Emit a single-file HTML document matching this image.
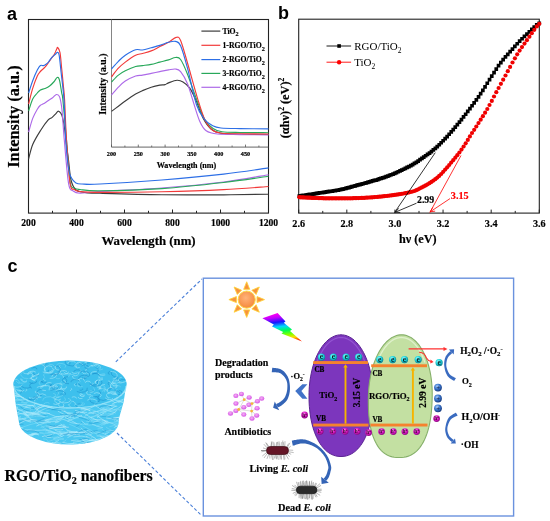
<!DOCTYPE html><html><head><meta charset="utf-8"><title>Figure</title><style>html,body{margin:0;padding:0;background:#fff;}svg{display:block;}.s{font-family:"Liberation Serif","Times New Roman",serif;font-weight:bold;stroke:#000;stroke-width:0.18px;}.n{font-family:"Liberation Serif","Times New Roman",serif;font-weight:normal;}.p{font-family:"Liberation Sans",Arial,sans-serif;font-weight:bold;}</style></head><body>
<svg width="550" height="521" viewBox="0 0 550 521">
<defs><radialGradient id="gE" cx="40%" cy="35%" r="65%"><stop offset="0" stop-color="#b8ffff"/><stop offset="0.5" stop-color="#22d8e0"/><stop offset="1" stop-color="#0a7f90"/></radialGradient><radialGradient id="gH" cx="40%" cy="35%" r="65%"><stop offset="0" stop-color="#ff9cf0"/><stop offset="0.5" stop-color="#e01ac8"/><stop offset="1" stop-color="#8a0a80"/></radialGradient><radialGradient id="gP" cx="40%" cy="35%" r="65%"><stop offset="0" stop-color="#b8d8ff"/><stop offset="0.5" stop-color="#3a78d0"/><stop offset="1" stop-color="#1a3c80"/></radialGradient><radialGradient id="gSun" cx="45%" cy="40%" r="60%"><stop offset="0" stop-color="#ffb27a"/><stop offset="1" stop-color="#f58a3c"/></radialGradient><linearGradient id="gBolt" gradientUnits="userSpaceOnUse" x1="280" y1="313" x2="284" y2="342"><stop offset="0" stop-color="#ff00f0"/><stop offset="0.14" stop-color="#c000ff"/><stop offset="0.3" stop-color="#1818ff"/><stop offset="0.46" stop-color="#00d8ff"/><stop offset="0.62" stop-color="#00ff50"/><stop offset="0.76" stop-color="#80ff00"/><stop offset="0.88" stop-color="#ffe000"/><stop offset="1" stop-color="#ff2800"/></linearGradient><linearGradient id="gPur" x1="0" y1="0" x2="1" y2="0"><stop offset="0" stop-color="#7430b4"/><stop offset="0.5" stop-color="#8040c4"/><stop offset="1" stop-color="#7430b4"/></linearGradient><radialGradient id="gGrn" cx="50%" cy="30%" r="70%"><stop offset="0" stop-color="#d8efbf"/><stop offset="1" stop-color="#bcdc98"/></radialGradient><linearGradient id="gCylTop" x1="0" y1="0" x2="0" y2="1"><stop offset="0" stop-color="#40bfe8"/><stop offset="1" stop-color="#2aaedc"/></linearGradient><linearGradient id="gCylSide" x1="0" y1="0" x2="1" y2="0"><stop offset="0" stop-color="#2fb4e2"/><stop offset="0.5" stop-color="#4cc4ec"/><stop offset="1" stop-color="#30b2e0"/></linearGradient><linearGradient id="gArr" x1="0" y1="0" x2="0" y2="1"><stop offset="0" stop-color="#3465b8"/><stop offset="1" stop-color="#2c5cb0"/></linearGradient></defs>
<text class="p" x="7" y="19.5" font-size="18">a</text>
<rect x="28.5" y="19.5" width="240" height="193.6" fill="none" stroke="#222" stroke-width="1.1"/>
<line x1="28.50" y1="213" x2="28.50" y2="209.50" stroke="#222" stroke-width="1"/>
<line x1="52.50" y1="213" x2="52.50" y2="210.80" stroke="#222" stroke-width="1"/>
<line x1="76.50" y1="213" x2="76.50" y2="209.50" stroke="#222" stroke-width="1"/>
<line x1="100.50" y1="213" x2="100.50" y2="210.80" stroke="#222" stroke-width="1"/>
<line x1="124.50" y1="213" x2="124.50" y2="209.50" stroke="#222" stroke-width="1"/>
<line x1="148.50" y1="213" x2="148.50" y2="210.80" stroke="#222" stroke-width="1"/>
<line x1="172.50" y1="213" x2="172.50" y2="209.50" stroke="#222" stroke-width="1"/>
<line x1="196.50" y1="213" x2="196.50" y2="210.80" stroke="#222" stroke-width="1"/>
<line x1="220.50" y1="213" x2="220.50" y2="209.50" stroke="#222" stroke-width="1"/>
<line x1="244.50" y1="213" x2="244.50" y2="210.80" stroke="#222" stroke-width="1"/>
<line x1="268.50" y1="213" x2="268.50" y2="209.50" stroke="#222" stroke-width="1"/>
<text class="s" x="28.50" y="225.8" font-size="9.6" text-anchor="middle">200</text>
<text class="s" x="76.50" y="225.8" font-size="9.6" text-anchor="middle">400</text>
<text class="s" x="124.50" y="225.8" font-size="9.6" text-anchor="middle">600</text>
<text class="s" x="172.50" y="225.8" font-size="9.6" text-anchor="middle">800</text>
<text class="s" x="220.50" y="225.8" font-size="9.6" text-anchor="middle">1000</text>
<text class="s" x="268.50" y="225.8" font-size="9.6" text-anchor="middle">1200</text>
<text class="s" x="148.5" y="245.4" font-size="12.8" text-anchor="middle">Wavelength (nm)</text>
<text class="s" transform="translate(18.6,116.6) rotate(-90)" font-size="16.4" text-anchor="middle">Intensity (a.u.)</text>
<path d="M28.60 159.00 C29.28 156.58 30.73 149.22 32.70 144.50 C34.67 139.78 37.85 134.75 40.40 130.70 C42.95 126.65 46.08 122.38 48.00 120.20 C49.92 118.02 50.62 118.67 51.90 117.60 C53.18 116.53 54.60 114.87 55.70 113.80 C56.80 112.73 57.47 110.95 58.50 111.20 C59.53 111.45 60.90 112.50 61.90 115.30 C62.90 118.10 63.73 123.05 64.50 128.00 C65.27 132.95 65.83 139.67 66.50 145.00 C67.17 150.33 67.75 154.17 68.50 160.00 C69.25 165.83 69.75 175.00 71.00 180.00 C72.25 185.00 73.67 187.92 76.00 190.00 C78.33 192.08 81.00 191.95 85.00 192.50 C89.00 193.05 87.20 192.92 100.00 193.30 C112.80 193.68 141.20 194.55 161.80 194.80 C182.40 195.05 205.82 194.90 223.60 194.80 C241.38 194.70 261.02 194.30 268.50 194.20" fill="none" stroke="#3c3c3c" stroke-width="1.15" stroke-linejoin="round"/>
<path d="M28.60 132.20 C29.28 129.90 31.25 122.23 32.70 118.40 C34.15 114.57 36.02 111.38 37.30 109.20 C38.58 107.02 39.38 106.20 40.40 105.30 C41.42 104.40 42.13 104.57 43.40 103.80 C44.67 103.03 46.47 101.72 48.00 100.70 C49.53 99.68 51.18 98.73 52.60 97.70 C54.02 96.67 55.33 94.63 56.50 94.50 C57.67 94.37 58.68 94.32 59.60 96.90 C60.52 99.48 61.22 102.82 62.00 110.00 C62.78 117.18 63.20 127.73 64.30 140.00 C65.40 152.27 67.15 175.12 68.60 183.60 C70.05 192.08 71.10 189.30 73.00 190.90 C74.90 192.50 75.50 193.10 80.00 193.20 C84.50 193.30 86.37 192.37 100.00 191.50 C113.63 190.63 141.20 189.58 161.80 188.00 C182.40 186.42 205.82 184.22 223.60 182.00 C241.38 179.78 261.02 175.92 268.50 174.70" fill="none" stroke="#ad6ae8" stroke-width="1.15" stroke-linejoin="round"/>
<path d="M28.60 111.00 C29.28 109.00 31.25 102.00 32.70 99.00 C34.15 96.00 36.02 94.50 37.30 93.00 C38.58 91.50 39.12 90.75 40.40 90.00 C41.68 89.25 43.47 89.17 45.00 88.50 C46.53 87.83 48.07 87.17 49.60 86.00 C51.13 84.83 52.95 82.92 54.20 81.50 C55.45 80.08 56.23 77.78 57.10 77.50 C57.97 77.22 58.63 77.22 59.40 79.80 C60.17 82.38 61.12 89.63 61.70 93.00 C62.28 96.37 62.10 92.17 62.90 100.00 C63.70 107.83 65.30 126.30 66.50 140.00 C67.70 153.70 68.77 174.20 70.10 182.20 C71.43 190.20 72.85 186.78 74.50 188.00 C76.15 189.22 75.75 189.03 80.00 189.50 C84.25 189.97 86.37 190.95 100.00 190.80 C113.63 190.65 141.20 189.98 161.80 188.60 C182.40 187.22 205.82 184.55 223.60 182.50 C241.38 180.45 261.02 177.33 268.50 176.30" fill="none" stroke="#28a85a" stroke-width="1.15" stroke-linejoin="round"/>
<path d="M28.60 104.00 C29.28 101.40 31.25 93.07 32.70 88.40 C34.15 83.73 36.02 78.82 37.30 76.00 C38.58 73.18 39.12 72.98 40.40 71.50 C41.68 70.02 43.65 68.60 45.00 67.10 C46.35 65.60 47.35 64.08 48.50 62.50 C49.65 60.92 50.95 58.92 51.90 57.60 C52.85 56.28 53.43 55.95 54.20 54.60 C54.97 53.25 55.92 50.68 56.50 49.50 C57.08 48.32 57.12 46.97 57.70 47.50 C58.28 48.03 59.33 49.15 60.00 52.70 C60.67 56.25 61.13 63.23 61.70 68.80 C62.27 74.37 62.92 80.90 63.40 86.10 C63.88 91.30 64.08 91.02 64.60 100.00 C65.12 108.98 65.58 126.08 66.50 140.00 C67.42 153.92 68.77 175.25 70.10 183.50 C71.43 191.75 72.85 188.17 74.50 189.50 C76.15 190.83 75.75 191.03 80.00 191.50 C84.25 191.97 86.37 192.27 100.00 192.30 C113.63 192.33 141.20 192.15 161.80 191.70 C182.40 191.25 205.82 190.47 223.60 189.60 C241.38 188.73 261.02 187.02 268.50 186.50" fill="none" stroke="#f23a3a" stroke-width="1.15" stroke-linejoin="round"/>
<path d="M28.60 93.00 C29.28 90.95 31.25 84.53 32.70 80.70 C34.15 76.87 36.02 72.53 37.30 70.00 C38.58 67.47 39.38 66.23 40.40 65.50 C41.42 64.77 42.47 65.82 43.40 65.60 C44.33 65.38 45.15 64.80 46.00 64.20 C46.85 63.60 47.52 63.15 48.50 62.00 C49.48 60.85 50.73 58.60 51.90 57.30 C53.07 56.00 54.58 55.02 55.50 54.20 C56.42 53.38 56.80 52.27 57.40 52.40 C58.00 52.53 58.48 51.68 59.10 55.00 C59.72 58.32 60.28 64.80 61.10 72.30 C61.92 79.80 63.23 88.72 64.00 100.00 C64.77 111.28 64.93 128.50 65.70 140.00 C66.47 151.50 67.63 162.65 68.60 169.00 C69.57 175.35 70.28 175.78 71.50 178.10 C72.72 180.42 74.15 181.92 75.90 182.90 C77.65 183.88 77.98 183.82 82.00 184.00 C86.02 184.18 86.70 184.67 100.00 184.00 C113.30 183.33 141.20 181.65 161.80 180.00 C182.40 178.35 205.82 176.12 223.60 174.10 C241.38 172.08 261.02 168.93 268.50 167.90" fill="none" stroke="#2d6fe6" stroke-width="1.15" stroke-linejoin="round"/>
<line x1="111.5" y1="19.5" x2="111.5" y2="147.1" stroke="#777" stroke-width="0.9"/>
<line x1="111.5" y1="147.1" x2="268.5" y2="147.1" stroke="#555" stroke-width="0.9"/>
<line x1="111.50" y1="147.1" x2="111.50" y2="144.60" stroke="#555" stroke-width="0.8"/>
<line x1="124.90" y1="147.1" x2="124.90" y2="145.50" stroke="#555" stroke-width="0.8"/>
<line x1="138.30" y1="147.1" x2="138.30" y2="144.60" stroke="#555" stroke-width="0.8"/>
<line x1="151.70" y1="147.1" x2="151.70" y2="145.50" stroke="#555" stroke-width="0.8"/>
<line x1="165.10" y1="147.1" x2="165.10" y2="144.60" stroke="#555" stroke-width="0.8"/>
<line x1="178.50" y1="147.1" x2="178.50" y2="145.50" stroke="#555" stroke-width="0.8"/>
<line x1="191.90" y1="147.1" x2="191.90" y2="144.60" stroke="#555" stroke-width="0.8"/>
<line x1="205.30" y1="147.1" x2="205.30" y2="145.50" stroke="#555" stroke-width="0.8"/>
<line x1="218.70" y1="147.1" x2="218.70" y2="144.60" stroke="#555" stroke-width="0.8"/>
<line x1="232.10" y1="147.1" x2="232.10" y2="145.50" stroke="#555" stroke-width="0.8"/>
<line x1="245.50" y1="147.1" x2="245.50" y2="144.60" stroke="#555" stroke-width="0.8"/>
<line x1="258.90" y1="147.1" x2="258.90" y2="145.50" stroke="#555" stroke-width="0.8"/>
<text class="s" x="111.50" y="155.6" font-size="6.2" text-anchor="middle">200</text>
<text class="s" x="138.30" y="155.6" font-size="6.2" text-anchor="middle">250</text>
<text class="s" x="165.10" y="155.6" font-size="6.2" text-anchor="middle">300</text>
<text class="s" x="191.90" y="155.6" font-size="6.2" text-anchor="middle">350</text>
<text class="s" x="218.70" y="155.6" font-size="6.2" text-anchor="middle">400</text>
<text class="s" x="245.50" y="155.6" font-size="6.2" text-anchor="middle">450</text>
<text class="s" x="186.5" y="168" font-size="8.1" text-anchor="middle">Wavelength (nm)</text>
<text class="s" transform="translate(106.1,84.2) rotate(-90)" font-size="9.8" text-anchor="middle">Intensity (a.u.)</text>
<path d="M111.50 111.40 C112.65 110.53 116.10 107.93 118.40 106.20 C120.70 104.47 122.43 103.02 125.30 101.00 C128.17 98.98 132.73 95.83 135.60 94.10 C138.47 92.37 139.90 91.75 142.50 90.60 C145.10 89.45 148.32 88.12 151.20 87.20 C154.08 86.28 157.50 85.53 159.80 85.10 C162.10 84.67 163.55 84.97 165.00 84.60 C166.45 84.23 166.50 83.62 168.50 82.90 C170.50 82.18 174.58 80.45 177.00 80.30 C179.42 80.15 180.87 80.68 183.00 82.00 C185.13 83.32 187.57 84.98 189.80 88.20 C192.03 91.42 194.20 96.33 196.40 101.30 C198.60 106.27 200.57 113.38 203.00 118.00 C205.43 122.62 208.17 126.50 211.00 129.00 C213.83 131.50 215.17 132.12 220.00 133.00 C224.83 133.88 231.92 134.05 240.00 134.30 C248.08 134.55 263.75 134.47 268.50 134.50" fill="none" stroke="#3c3c3c" stroke-width="1.15" stroke-linejoin="round"/>
<path d="M111.50 95.00 C112.65 93.70 116.10 89.52 118.40 87.20 C120.70 84.88 122.43 82.97 125.30 81.10 C128.17 79.23 132.73 77.00 135.60 76.00 C138.47 75.00 139.90 75.53 142.50 75.10 C145.10 74.67 148.32 73.98 151.20 73.40 C154.08 72.82 156.92 72.18 159.80 71.60 C162.68 71.02 165.90 70.33 168.50 69.90 C171.10 69.47 173.38 68.72 175.40 69.00 C177.42 69.28 178.58 69.15 180.60 71.60 C182.62 74.05 185.42 78.75 187.50 83.70 C189.58 88.65 191.08 95.10 193.10 101.30 C195.12 107.50 197.42 116.00 199.60 120.90 C201.78 125.80 203.20 128.52 206.20 130.70 C209.20 132.88 211.97 133.35 217.60 134.00 C223.23 134.65 231.52 134.47 240.00 134.60 C248.48 134.73 263.75 134.77 268.50 134.80" fill="none" stroke="#ad6ae8" stroke-width="1.15" stroke-linejoin="round"/>
<path d="M111.50 82.00 C112.65 80.85 116.10 76.97 118.40 75.10 C120.70 73.23 122.43 72.23 125.30 70.80 C128.17 69.37 132.73 67.37 135.60 66.50 C138.47 65.63 139.90 65.95 142.50 65.60 C145.10 65.25 148.32 64.98 151.20 64.40 C154.08 63.82 156.92 62.85 159.80 62.10 C162.68 61.35 165.90 60.67 168.50 59.90 C171.10 59.13 173.38 57.57 175.40 57.50 C177.42 57.43 178.58 56.72 180.60 59.50 C182.62 62.28 184.63 67.00 187.50 74.20 C190.37 81.40 194.88 95.07 197.80 102.70 C200.72 110.33 202.47 115.70 205.00 120.00 C207.53 124.30 210.17 126.55 213.00 128.50 C215.83 130.45 217.50 131.03 222.00 131.70 C226.50 132.37 232.25 132.33 240.00 132.50 C247.75 132.67 263.75 132.67 268.50 132.70" fill="none" stroke="#28a85a" stroke-width="1.15" stroke-linejoin="round"/>
<path d="M111.50 76.80 C112.65 75.37 116.10 70.65 118.40 68.20 C120.70 65.75 122.43 64.27 125.30 62.10 C128.17 59.93 132.73 56.63 135.60 55.20 C138.47 53.77 139.90 54.22 142.50 53.50 C145.10 52.78 148.32 52.05 151.20 50.90 C154.08 49.75 156.92 48.03 159.80 46.60 C162.68 45.17 165.77 43.83 168.50 42.30 C171.23 40.77 174.18 37.70 176.20 37.40 C178.22 37.10 178.72 36.23 180.60 40.50 C182.48 44.77 184.63 53.20 187.50 63.00 C190.37 72.80 194.88 89.80 197.80 99.30 C200.72 108.80 202.47 114.80 205.00 120.00 C207.53 125.20 210.17 128.30 213.00 130.50 C215.83 132.70 217.50 132.65 222.00 133.20 C226.50 133.75 232.25 133.67 240.00 133.80 C247.75 133.93 263.75 133.97 268.50 134.00" fill="none" stroke="#f23a3a" stroke-width="1.15" stroke-linejoin="round"/>
<path d="M111.50 69.00 C112.65 67.72 116.10 63.60 118.40 61.30 C120.70 59.00 122.43 57.13 125.30 55.20 C128.17 53.27 132.73 50.57 135.60 49.70 C138.47 48.83 139.90 50.32 142.50 50.00 C145.10 49.68 148.32 48.57 151.20 47.80 C154.08 47.03 156.92 46.32 159.80 45.40 C162.68 44.48 165.90 42.97 168.50 42.30 C171.10 41.63 173.38 40.83 175.40 41.40 C177.42 41.97 178.58 41.23 180.60 45.70 C182.62 50.17 184.87 58.40 187.50 68.20 C190.13 78.00 193.57 95.98 196.40 104.50 C199.23 113.02 201.78 115.75 204.50 119.30 C207.22 122.85 209.97 124.35 212.70 125.80 C215.43 127.25 216.35 127.53 220.90 128.00 C225.45 128.47 232.07 128.47 240.00 128.60 C247.93 128.73 263.75 128.77 268.50 128.80" fill="none" stroke="#2d6fe6" stroke-width="1.15" stroke-linejoin="round"/>
<line x1="201.4" y1="31.1" x2="220.3" y2="31.1" stroke="#3c3c3c" stroke-width="1.2"/>
<text class="s" x="222.5" y="33.7" font-size="7.7">TiO<tspan font-size="6.2" dy="2.7">2</tspan></text>
<line x1="201.4" y1="45.3" x2="220.3" y2="45.3" stroke="#f23a3a" stroke-width="1.2"/>
<text class="s" x="222.5" y="47.9" font-size="7.7">1-RGO/TiO<tspan font-size="6.2" dy="2.7">2</tspan></text>
<line x1="201.4" y1="59.6" x2="220.3" y2="59.6" stroke="#2d6fe6" stroke-width="1.2"/>
<text class="s" x="222.5" y="62.2" font-size="7.7">2-RGO/TiO<tspan font-size="6.2" dy="2.7">2</tspan></text>
<line x1="201.4" y1="73.4" x2="220.3" y2="73.4" stroke="#28a85a" stroke-width="1.2"/>
<text class="s" x="222.5" y="76.0" font-size="7.7">3-RGO/TiO<tspan font-size="6.2" dy="2.7">2</tspan></text>
<line x1="201.4" y1="87.3" x2="220.3" y2="87.3" stroke="#ad6ae8" stroke-width="1.2"/>
<text class="s" x="222.5" y="89.9" font-size="7.7">4-RGO/TiO<tspan font-size="6.2" dy="2.7">2</tspan></text>
<text class="p" x="278.1" y="19.2" font-size="18">b</text>
<rect x="298.7" y="19.2" width="240.6" height="193.9" fill="none" stroke="#222" stroke-width="1.1"/>
<line x1="298.70" y1="213.1" x2="298.70" y2="209.60" stroke="#222" stroke-width="1"/>
<line x1="322.76" y1="213.1" x2="322.76" y2="210.90" stroke="#222" stroke-width="1"/>
<line x1="346.82" y1="213.1" x2="346.82" y2="209.60" stroke="#222" stroke-width="1"/>
<line x1="370.88" y1="213.1" x2="370.88" y2="210.90" stroke="#222" stroke-width="1"/>
<line x1="394.94" y1="213.1" x2="394.94" y2="209.60" stroke="#222" stroke-width="1"/>
<line x1="419.00" y1="213.1" x2="419.00" y2="210.90" stroke="#222" stroke-width="1"/>
<line x1="443.06" y1="213.1" x2="443.06" y2="209.60" stroke="#222" stroke-width="1"/>
<line x1="467.12" y1="213.1" x2="467.12" y2="210.90" stroke="#222" stroke-width="1"/>
<line x1="491.18" y1="213.1" x2="491.18" y2="209.60" stroke="#222" stroke-width="1"/>
<line x1="515.24" y1="213.1" x2="515.24" y2="210.90" stroke="#222" stroke-width="1"/>
<line x1="539.30" y1="213.1" x2="539.30" y2="209.60" stroke="#222" stroke-width="1"/>
<text class="s" x="298.70" y="226.6" font-size="10.2" text-anchor="middle">2.6</text>
<text class="s" x="346.82" y="226.6" font-size="10.2" text-anchor="middle">2.8</text>
<text class="s" x="394.94" y="226.6" font-size="10.2" text-anchor="middle">3.0</text>
<text class="s" x="443.06" y="226.6" font-size="10.2" text-anchor="middle">3.2</text>
<text class="s" x="491.18" y="226.6" font-size="10.2" text-anchor="middle">3.4</text>
<text class="s" x="539.30" y="226.6" font-size="10.2" text-anchor="middle">3.6</text>
<text class="s" x="417.8" y="242.5" font-size="12.2" text-anchor="middle">h&#957; (eV)</text>
<text class="s" transform="translate(288.6,108) rotate(-90)" font-size="12.3" text-anchor="middle">(&#945;h&#957;)<tspan font-size="7.5" dy="-4.5">2</tspan><tspan dy="4.5"> (eV)</tspan><tspan font-size="7.5" dy="-4.5">2</tspan></text>
<path fill="#000" d="M537.4 21.5h3.7v3.7h-3.7zM534.9 23.0h3.7v3.7h-3.7zM532.4 25.3h3.7v3.7h-3.7zM530.0 27.6h3.7v3.7h-3.7zM527.5 30.0h3.7v3.7h-3.7zM525.1 32.3h3.7v3.7h-3.7zM522.6 34.6h3.7v3.7h-3.7zM520.2 36.9h3.7v3.7h-3.7zM517.8 39.3h3.7v3.7h-3.7zM515.4 41.9h3.7v3.7h-3.7zM513.0 44.5h3.7v3.7h-3.7zM510.6 47.2h3.7v3.7h-3.7zM508.3 49.8h3.7v3.7h-3.7zM505.9 52.5h3.7v3.7h-3.7zM503.6 55.1h3.7v3.7h-3.7zM501.3 57.8h3.7v3.7h-3.7zM499.0 60.7h3.7v3.7h-3.7zM496.7 63.8h3.7v3.7h-3.7zM494.4 67.2h3.7v3.7h-3.7zM492.2 70.7h3.7v3.7h-3.7zM489.9 74.2h3.7v3.7h-3.7zM487.7 77.8h3.7v3.7h-3.7zM485.4 81.4h3.7v3.7h-3.7zM483.2 85.0h3.7v3.7h-3.7zM481.0 88.5h3.7v3.7h-3.7zM478.8 91.8h3.7v3.7h-3.7zM476.7 95.0h3.7v3.7h-3.7zM474.5 98.0h3.7v3.7h-3.7zM472.3 101.0h3.7v3.7h-3.7zM470.2 103.9h3.7v3.7h-3.7zM468.1 106.8h3.7v3.7h-3.7zM465.9 109.6h3.7v3.7h-3.7zM463.8 112.4h3.7v3.7h-3.7zM461.7 115.1h3.7v3.7h-3.7zM459.6 117.7h3.7v3.7h-3.7zM457.6 120.2h3.7v3.7h-3.7zM455.5 122.8h3.7v3.7h-3.7zM453.4 125.2h3.7v3.7h-3.7zM451.4 127.7h3.7v3.7h-3.7zM449.4 130.1h3.7v3.7h-3.7zM447.3 132.4h3.7v3.7h-3.7zM445.3 134.7h3.7v3.7h-3.7zM443.3 136.8h3.7v3.7h-3.7zM441.3 138.9h3.7v3.7h-3.7zM439.3 140.9h3.7v3.7h-3.7zM437.4 142.9h3.7v3.7h-3.7zM435.4 144.7h3.7v3.7h-3.7zM433.5 146.5h3.7v3.7h-3.7zM431.5 148.1h3.7v3.7h-3.7zM429.6 149.7h3.7v3.7h-3.7zM427.7 151.2h3.7v3.7h-3.7zM425.7 152.6h3.7v3.7h-3.7zM423.8 153.9h3.7v3.7h-3.7zM421.9 155.2h3.7v3.7h-3.7zM420.1 156.5h3.7v3.7h-3.7zM418.2 157.8h3.7v3.7h-3.7zM416.3 159.2h3.7v3.7h-3.7zM414.5 160.5h3.7v3.7h-3.7zM412.6 161.6h3.7v3.7h-3.7zM410.8 162.7h3.7v3.7h-3.7zM409.0 163.7h3.7v3.7h-3.7zM407.1 164.7h3.7v3.7h-3.7zM405.3 165.6h3.7v3.7h-3.7zM403.5 166.5h3.7v3.7h-3.7zM401.7 167.4h3.7v3.7h-3.7zM399.9 168.3h3.7v3.7h-3.7zM398.2 169.1h3.7v3.7h-3.7zM396.4 169.9h3.7v3.7h-3.7zM394.6 170.7h3.7v3.7h-3.7zM392.9 171.5h3.7v3.7h-3.7zM391.2 172.2h3.7v3.7h-3.7zM389.4 172.9h3.7v3.7h-3.7zM387.7 173.6h3.7v3.7h-3.7zM386.0 174.2h3.7v3.7h-3.7zM384.3 174.8h3.7v3.7h-3.7zM382.6 175.5h3.7v3.7h-3.7zM380.9 176.1h3.7v3.7h-3.7zM379.2 176.6h3.7v3.7h-3.7zM377.5 177.1h3.7v3.7h-3.7zM375.9 177.7h3.7v3.7h-3.7zM374.2 178.2h3.7v3.7h-3.7zM372.5 178.6h3.7v3.7h-3.7zM370.9 179.1h3.7v3.7h-3.7zM369.3 179.6h3.7v3.7h-3.7zM367.6 180.0h3.7v3.7h-3.7zM366.0 180.5h3.7v3.7h-3.7zM364.4 181.0h3.7v3.7h-3.7zM362.8 181.4h3.7v3.7h-3.7zM361.2 181.9h3.7v3.7h-3.7zM359.6 182.3h3.7v3.7h-3.7zM358.0 182.7h3.7v3.7h-3.7zM356.4 183.1h3.7v3.7h-3.7zM354.9 183.6h3.7v3.7h-3.7zM353.3 184.0h3.7v3.7h-3.7zM351.8 184.4h3.7v3.7h-3.7zM350.2 184.8h3.7v3.7h-3.7zM348.7 185.2h3.7v3.7h-3.7zM347.1 185.7h3.7v3.7h-3.7zM345.6 186.1h3.7v3.7h-3.7zM344.1 186.5h3.7v3.7h-3.7zM342.6 186.9h3.7v3.7h-3.7zM341.1 187.2h3.7v3.7h-3.7zM339.6 187.6h3.7v3.7h-3.7zM338.1 187.9h3.7v3.7h-3.7zM336.6 188.2h3.7v3.7h-3.7zM335.1 188.4h3.7v3.7h-3.7zM333.6 188.7h3.7v3.7h-3.7zM332.2 188.9h3.7v3.7h-3.7zM330.7 189.2h3.7v3.7h-3.7zM329.2 189.4h3.7v3.7h-3.7zM327.8 189.6h3.7v3.7h-3.7zM326.4 189.8h3.7v3.7h-3.7zM324.9 190.0h3.7v3.7h-3.7zM323.5 190.3h3.7v3.7h-3.7zM322.1 190.5h3.7v3.7h-3.7zM320.6 190.7h3.7v3.7h-3.7zM319.2 190.9h3.7v3.7h-3.7zM317.8 191.1h3.7v3.7h-3.7zM316.4 191.3h3.7v3.7h-3.7zM315.0 191.5h3.7v3.7h-3.7zM313.7 191.7h3.7v3.7h-3.7zM312.3 192.0h3.7v3.7h-3.7zM310.9 192.2h3.7v3.7h-3.7zM309.5 192.4h3.7v3.7h-3.7zM308.2 192.6h3.7v3.7h-3.7zM306.8 192.8h3.7v3.7h-3.7zM305.5 193.0h3.7v3.7h-3.7zM304.1 193.2h3.7v3.7h-3.7zM302.8 193.4h3.7v3.7h-3.7zM301.4 193.6h3.7v3.7h-3.7zM300.1 193.8h3.7v3.7h-3.7zM298.8 194.0h3.7v3.7h-3.7zM297.5 194.2h3.7v3.7h-3.7z"/>
<g fill="#f00000"><circle cx="539.3" cy="23.8" r="2.1"/><circle cx="536.8" cy="26.4" r="2.1"/><circle cx="534.3" cy="29.8" r="2.1"/><circle cx="531.8" cy="33.2" r="2.1"/><circle cx="529.4" cy="36.7" r="2.1"/><circle cx="526.9" cy="40.2" r="2.1"/><circle cx="524.5" cy="43.6" r="2.1"/><circle cx="522.0" cy="47.1" r="2.1"/><circle cx="519.6" cy="50.6" r="2.1"/><circle cx="517.2" cy="54.3" r="2.1"/><circle cx="514.9" cy="58.3" r="2.1"/><circle cx="512.5" cy="62.5" r="2.1"/><circle cx="510.1" cy="66.9" r="2.1"/><circle cx="507.8" cy="71.2" r="2.1"/><circle cx="505.5" cy="75.5" r="2.1"/><circle cx="503.2" cy="79.7" r="2.1"/><circle cx="500.9" cy="83.8" r="2.1"/><circle cx="498.6" cy="88.0" r="2.1"/><circle cx="496.3" cy="92.2" r="2.1"/><circle cx="494.0" cy="96.5" r="2.1"/><circle cx="491.8" cy="100.9" r="2.1"/><circle cx="489.5" cy="105.0" r="2.1"/><circle cx="487.3" cy="109.0" r="2.1"/><circle cx="485.1" cy="112.7" r="2.1"/><circle cx="482.9" cy="116.2" r="2.1"/><circle cx="480.7" cy="119.7" r="2.1"/><circle cx="478.5" cy="123.1" r="2.1"/><circle cx="476.3" cy="126.5" r="2.1"/><circle cx="474.2" cy="129.8" r="2.1"/><circle cx="472.0" cy="133.0" r="2.1"/><circle cx="469.9" cy="136.4" r="2.1"/><circle cx="467.8" cy="139.9" r="2.1"/><circle cx="465.7" cy="143.3" r="2.1"/><circle cx="463.6" cy="146.5" r="2.1"/><circle cx="461.5" cy="149.6" r="2.1"/><circle cx="459.4" cy="152.5" r="2.1"/><circle cx="457.3" cy="155.2" r="2.1"/><circle cx="455.3" cy="157.7" r="2.1"/><circle cx="453.2" cy="160.2" r="2.1"/><circle cx="451.2" cy="162.6" r="2.1"/><circle cx="449.2" cy="165.0" r="2.1"/><circle cx="447.2" cy="167.3" r="2.1"/><circle cx="445.2" cy="169.6" r="2.1"/><circle cx="443.2" cy="171.8" r="2.1"/><circle cx="441.2" cy="174.0" r="2.1"/><circle cx="439.2" cy="175.9" r="2.1"/><circle cx="437.3" cy="177.6" r="2.1"/><circle cx="435.3" cy="179.2" r="2.1"/><circle cx="433.4" cy="180.6" r="2.1"/><circle cx="431.4" cy="181.9" r="2.1"/><circle cx="429.5" cy="183.2" r="2.1"/><circle cx="427.6" cy="184.3" r="2.1"/><circle cx="425.7" cy="185.4" r="2.1"/><circle cx="423.8" cy="186.4" r="2.1"/><circle cx="421.9" cy="187.4" r="2.1"/><circle cx="420.0" cy="188.3" r="2.1"/><circle cx="418.2" cy="189.3" r="2.1"/><circle cx="416.3" cy="190.2" r="2.1"/><circle cx="414.5" cy="191.0" r="2.1"/><circle cx="412.6" cy="191.5" r="2.1"/><circle cx="410.8" cy="192.0" r="2.1"/><circle cx="409.0" cy="192.4" r="2.1"/><circle cx="407.2" cy="192.8" r="2.1"/><circle cx="405.4" cy="193.1" r="2.1"/><circle cx="403.6" cy="193.5" r="2.1"/><circle cx="401.8" cy="193.8" r="2.1"/><circle cx="400.0" cy="194.1" r="2.1"/><circle cx="398.3" cy="194.4" r="2.1"/><circle cx="396.5" cy="194.7" r="2.1"/><circle cx="394.7" cy="194.9" r="2.1"/><circle cx="393.0" cy="195.2" r="2.1"/><circle cx="391.3" cy="195.4" r="2.1"/><circle cx="389.5" cy="195.6" r="2.1"/><circle cx="387.8" cy="195.8" r="2.1"/><circle cx="386.1" cy="196.0" r="2.1"/><circle cx="384.4" cy="196.2" r="2.1"/><circle cx="382.7" cy="196.4" r="2.1"/><circle cx="381.0" cy="196.6" r="2.1"/><circle cx="379.4" cy="196.7" r="2.1"/><circle cx="377.7" cy="196.9" r="2.1"/><circle cx="376.0" cy="197.0" r="2.1"/><circle cx="374.4" cy="197.1" r="2.1"/><circle cx="372.7" cy="197.3" r="2.1"/><circle cx="371.1" cy="197.4" r="2.1"/><circle cx="369.5" cy="197.5" r="2.1"/><circle cx="367.9" cy="197.6" r="2.1"/><circle cx="366.2" cy="197.7" r="2.1"/><circle cx="364.6" cy="197.8" r="2.1"/><circle cx="363.0" cy="197.9" r="2.1"/><circle cx="361.4" cy="197.9" r="2.1"/><circle cx="359.9" cy="198.0" r="2.1"/><circle cx="358.3" cy="198.1" r="2.1"/><circle cx="356.7" cy="198.1" r="2.1"/><circle cx="355.2" cy="198.2" r="2.1"/><circle cx="353.6" cy="198.2" r="2.1"/><circle cx="352.1" cy="198.3" r="2.1"/><circle cx="350.5" cy="198.3" r="2.1"/><circle cx="349.0" cy="198.3" r="2.1"/><circle cx="347.4" cy="198.3" r="2.1"/><circle cx="345.9" cy="198.3" r="2.1"/><circle cx="344.4" cy="198.3" r="2.1"/><circle cx="342.9" cy="198.3" r="2.1"/><circle cx="341.4" cy="198.3" r="2.1"/><circle cx="339.9" cy="198.3" r="2.1"/><circle cx="338.4" cy="198.3" r="2.1"/><circle cx="336.9" cy="198.3" r="2.1"/><circle cx="335.5" cy="198.3" r="2.1"/><circle cx="334.0" cy="198.3" r="2.1"/><circle cx="332.5" cy="198.3" r="2.1"/><circle cx="331.1" cy="198.3" r="2.1"/><circle cx="329.6" cy="198.3" r="2.1"/><circle cx="328.2" cy="198.3" r="2.1"/><circle cx="326.8" cy="198.3" r="2.1"/><circle cx="325.3" cy="198.3" r="2.1"/><circle cx="323.9" cy="198.3" r="2.1"/><circle cx="322.5" cy="198.2" r="2.1"/><circle cx="321.1" cy="198.2" r="2.1"/><circle cx="319.7" cy="198.1" r="2.1"/><circle cx="318.3" cy="198.1" r="2.1"/><circle cx="316.9" cy="198.0" r="2.1"/><circle cx="315.5" cy="198.0" r="2.1"/><circle cx="314.1" cy="197.9" r="2.1"/><circle cx="312.8" cy="197.9" r="2.1"/><circle cx="311.4" cy="197.8" r="2.1"/><circle cx="310.0" cy="197.7" r="2.1"/><circle cx="308.7" cy="197.7" r="2.1"/><circle cx="307.3" cy="197.6" r="2.1"/><circle cx="306.0" cy="197.6" r="2.1"/><circle cx="304.6" cy="197.5" r="2.1"/><circle cx="303.3" cy="197.4" r="2.1"/><circle cx="302.0" cy="197.4" r="2.1"/><circle cx="300.6" cy="197.3" r="2.1"/><circle cx="299.3" cy="197.2" r="2.1"/></g>
<line x1="394.5" y1="212.6" x2="435.3" y2="152.6" stroke="#000" stroke-width="0.8"/>
<line x1="429.8" y1="212.6" x2="461" y2="155.5" stroke="#f00" stroke-width="0.8"/>
<line x1="416.50" y1="203.20" x2="395.30" y2="212.20" stroke="#000" stroke-width="0.80"/><polyline points="398.58,208.42 395.30,212.20 400.30,212.47" fill="none" stroke="#000" stroke-width="0.80"/>
<line x1="450.00" y1="198.60" x2="430.20" y2="211.80" stroke="#f00" stroke-width="0.80"/><polyline points="432.72,207.47 430.20,211.80 435.16,211.13" fill="none" stroke="#f00" stroke-width="0.80"/>
<text class="s" x="417" y="203" font-size="9.8">2.99</text>
<text class="s" x="450.8" y="199" font-size="10.2" fill="#f00" style="stroke:#f00">3.15</text>
<line x1="326.5" y1="46" x2="351.1" y2="46" stroke="#000" stroke-width="0.9"/><rect x="337.3" y="44.2" width="3.6" height="3.6" fill="#000"/>
<text class="n" x="354.2" y="50" font-size="11">RGO/TiO<tspan font-size="7.5" dy="2.6">2</tspan></text>
<line x1="326.5" y1="62.2" x2="351.1" y2="62.2" stroke="#f00" stroke-width="0.9"/><circle cx="339.1" cy="62.2" r="2.2" fill="#f00"/>
<text class="n" x="354.2" y="66.2" font-size="11">TiO<tspan font-size="7.5" dy="2.6">2</tspan></text>
<text class="p" x="7.4" y="272" font-size="18">c</text>
<clipPath id="cylClip"><path d="M13.5,384 L15.8,405 L19.3,424 A49.6,22.5 0 0 0 118.5,420 L123.6,402 L126.4,384 A56.5,23.5 0 0 0 13.5,384 Z"/></clipPath>
<clipPath id="topClip"><ellipse cx="70" cy="384" rx="56.5" ry="23.5"/></clipPath>
<path d="M13.5,384 L15.8,405 L19.3,424 A49.6,22.5 0 0 0 118.5,420 L123.6,402 L126.4,384 A56.5,23.5 0 0 0 13.5,384 Z" fill="#4ac8f1"/>
<g clip-path="url(#cylClip)" fill="none" stroke-width="0.55" opacity="0.85"><path d="M86.0 436.5 Q97.3 442.2 105.8 442.9" stroke="#cdf4fd"/><path d="M65.5 448.6 Q73.9 450.0 87.0 451.8" stroke="#cdf4fd"/><path d="M75.7 426.4 Q77.5 426.8 82.0 422.3" stroke="#1f94d0"/><path d="M25.7 439.8 Q30.3 434.0 39.4 434.1" stroke="#8ee2f8"/><path d="M32.2 404.9 Q38.0 412.3 46.3 414.0" stroke="#cdf4fd"/><path d="M93.1 404.3 Q102.4 410.3 106.0 411.5" stroke="#cdf4fd"/><path d="M52.0 402.0 Q53.6 401.4 57.7 399.6" stroke="#cdf4fd"/><path d="M93.1 412.3 Q102.8 409.3 112.7 408.4" stroke="#cdf4fd"/><path d="M96.6 395.4 Q100.2 398.8 100.8 398.1" stroke="#cdf4fd"/><path d="M107.4 414.0 Q107.7 412.3 113.5 414.4" stroke="#8ee2f8"/><path d="M30.5 437.3 Q37.8 440.9 47.0 446.2" stroke="#cdf4fd"/><path d="M105.8 398.5 Q117.2 398.1 124.2 403.3" stroke="#8ee2f8"/><path d="M16.9 412.4 Q26.9 416.2 38.9 414.9" stroke="#cdf4fd"/><path d="M45.6 411.0 Q46.6 411.0 51.8 408.8" stroke="#8ee2f8"/><path d="M26.0 394.9 Q30.4 396.6 36.0 401.5" stroke="#cdf4fd"/><path d="M112.4 419.3 Q118.4 416.3 119.4 418.8" stroke="#cdf4fd"/><path d="M114.0 399.8 Q125.3 404.1 135.1 405.0" stroke="#cdf4fd"/><path d="M61.5 401.0 Q65.8 405.8 70.7 404.6" stroke="#8ee2f8"/><path d="M131.9 419.2 Q141.3 417.8 151.0 419.0" stroke="#cdf4fd"/><path d="M24.0 414.6 Q32.2 419.5 38.9 424.5" stroke="#cdf4fd"/><path d="M16.6 408.3 Q25.2 412.9 35.5 414.1" stroke="#8ee2f8"/><path d="M95.3 431.8 Q102.1 432.1 106.5 434.9" stroke="#cdf4fd"/><path d="M105.1 433.5 Q116.7 431.6 126.5 428.9" stroke="#cdf4fd"/><path d="M76.1 407.0 Q84.8 409.1 89.8 409.4" stroke="#8ee2f8"/><path d="M50.2 430.6 Q58.8 435.1 69.2 435.4" stroke="#8ee2f8"/><path d="M94.5 450.6 Q99.9 451.7 104.9 456.7" stroke="#8ee2f8"/><path d="M126.9 420.6 Q137.2 420.4 144.7 424.2" stroke="#8ee2f8"/><path d="M80.5 431.9 Q90.7 432.1 97.6 430.6" stroke="#1f94d0"/><path d="M8.6 401.6 Q15.7 402.2 26.2 400.6" stroke="#1f94d0"/><path d="M10.4 420.3 Q11.3 418.3 16.6 418.5" stroke="#cdf4fd"/><path d="M30.1 394.1 Q37.2 394.5 43.0 393.7" stroke="#cdf4fd"/><path d="M122.4 392.0 Q127.3 389.2 133.3 391.0" stroke="#8ee2f8"/><path d="M53.6 394.2 Q57.6 393.6 61.2 395.0" stroke="#cdf4fd"/><path d="M129.6 441.1 Q140.6 439.5 150.0 439.5" stroke="#cdf4fd"/><path d="M82.5 425.8 Q91.1 429.7 98.4 435.3" stroke="#8ee2f8"/><path d="M5.1 398.5 Q11.4 399.8 22.1 399.6" stroke="#8ee2f8"/><path d="M53.9 417.9 Q61.6 415.7 63.8 415.0" stroke="#8ee2f8"/><path d="M123.8 427.7 Q134.5 424.5 145.3 422.3" stroke="#cdf4fd"/><path d="M133.0 421.5 Q137.4 420.7 146.5 418.5" stroke="#cdf4fd"/><path d="M43.1 438.9 Q45.9 438.5 48.3 440.8" stroke="#8ee2f8"/><path d="M106.6 406.7 Q113.6 404.5 114.7 404.8" stroke="#cdf4fd"/><path d="M66.7 430.7 Q73.9 433.2 85.7 432.7" stroke="#cdf4fd"/><path d="M74.4 412.2 Q81.4 409.8 88.9 409.1" stroke="#1f94d0"/><path d="M81.8 394.2 Q90.7 394.8 94.6 390.8" stroke="#cdf4fd"/><path d="M6.9 438.7 Q16.3 438.9 23.1 437.5" stroke="#cdf4fd"/><path d="M123.5 415.1 Q132.2 412.8 144.5 412.9" stroke="#8ee2f8"/><path d="M13.6 442.2 Q18.8 445.2 26.5 444.8" stroke="#8ee2f8"/><path d="M23.5 420.7 Q30.0 419.0 38.4 421.4" stroke="#cdf4fd"/><path d="M110.5 396.1 Q121.5 394.4 128.9 390.8" stroke="#cdf4fd"/><path d="M98.9 450.7 Q102.0 456.8 110.6 458.7" stroke="#cdf4fd"/><path d="M88.9 449.1 Q91.6 452.5 96.8 450.9" stroke="#cdf4fd"/><path d="M84.4 416.8 Q88.7 411.8 98.5 411.4" stroke="#cdf4fd"/><path d="M14.4 395.5 Q26.2 394.0 33.5 396.9" stroke="#cdf4fd"/><path d="M45.9 428.0 Q56.6 425.2 68.8 427.8" stroke="#1f94d0"/><path d="M24.6 429.9 Q36.2 430.7 47.0 430.0" stroke="#cdf4fd"/><path d="M76.7 407.3 Q81.4 407.5 90.5 410.9" stroke="#cdf4fd"/><path d="M100.8 402.8 Q106.5 405.6 117.3 406.4" stroke="#cdf4fd"/><path d="M21.2 427.6 Q30.8 423.9 40.6 422.2" stroke="#8ee2f8"/><path d="M8.8 435.5 Q14.6 434.9 14.9 432.1" stroke="#cdf4fd"/><path d="M20.1 450.4 Q27.9 452.8 40.0 453.7" stroke="#cdf4fd"/><path d="M35.6 412.0 Q40.9 410.5 47.6 413.4" stroke="#8ee2f8"/><path d="M89.2 440.3 Q99.9 440.1 110.4 438.9" stroke="#cdf4fd"/><path d="M101.2 415.7 Q101.9 411.8 106.2 413.3" stroke="#8ee2f8"/><path d="M67.5 437.6 Q74.4 435.2 76.5 431.4" stroke="#cdf4fd"/><path d="M65.5 398.0 Q68.4 395.9 72.7 395.1" stroke="#8ee2f8"/><path d="M24.8 407.2 Q27.6 404.7 33.0 405.3" stroke="#cdf4fd"/><path d="M9.2 447.5 Q21.4 447.0 31.4 444.5" stroke="#cdf4fd"/><path d="M127.9 399.1 Q134.3 401.4 138.6 400.9" stroke="#cdf4fd"/><path d="M31.1 393.5 Q33.8 395.4 37.7 391.6" stroke="#cdf4fd"/><path d="M45.5 420.1 Q55.7 416.1 63.3 416.1" stroke="#cdf4fd"/><path d="M92.4 448.4 Q101.9 446.4 105.7 450.4" stroke="#cdf4fd"/><path d="M106.3 416.6 Q114.7 413.5 117.1 410.2" stroke="#cdf4fd"/><path d="M17.2 396.3 Q25.4 396.3 28.4 401.6" stroke="#cdf4fd"/><path d="M11.6 415.8 Q14.7 412.6 19.0 411.7" stroke="#cdf4fd"/><path d="M9.9 450.3 Q15.7 448.2 22.6 445.7" stroke="#cdf4fd"/><path d="M45.8 398.5 Q57.7 401.1 68.3 399.4" stroke="#cdf4fd"/><path d="M7.3 424.4 Q14.7 425.0 23.5 424.2" stroke="#1f94d0"/><path d="M123.7 410.5 Q132.4 407.6 144.5 409.4" stroke="#cdf4fd"/><path d="M16.4 438.3 Q19.1 437.6 26.2 441.8" stroke="#cdf4fd"/><path d="M16.0 417.7 Q18.5 419.3 26.3 418.5" stroke="#cdf4fd"/><path d="M31.0 409.2 Q34.3 407.6 38.6 408.2" stroke="#1f94d0"/><path d="M77.3 445.8 Q87.2 446.9 96.2 448.7" stroke="#8ee2f8"/><path d="M90.2 449.3 Q97.4 453.2 107.3 453.4" stroke="#cdf4fd"/><path d="M21.9 396.0 Q27.4 393.0 30.8 392.6" stroke="#cdf4fd"/><path d="M104.3 425.4 Q104.4 423.1 108.9 422.6" stroke="#8ee2f8"/><path d="M128.4 428.7 Q133.6 425.9 140.5 425.2" stroke="#cdf4fd"/><path d="M81.0 441.6 Q84.7 440.5 88.1 443.3" stroke="#1f94d0"/><path d="M63.0 448.3 Q65.4 451.9 70.0 450.6" stroke="#cdf4fd"/><path d="M61.4 418.5 Q71.8 424.2 81.7 424.3" stroke="#cdf4fd"/><path d="M18.5 440.9 Q24.8 437.8 25.3 440.3" stroke="#cdf4fd"/><path d="M67.7 444.9 Q71.2 442.6 77.4 443.9" stroke="#cdf4fd"/><path d="M51.4 437.1 Q55.4 438.4 62.4 434.0" stroke="#8ee2f8"/><path d="M115.5 429.1 Q121.7 428.6 123.9 428.3" stroke="#cdf4fd"/><path d="M27.0 397.9 Q35.5 402.0 47.6 402.6" stroke="#cdf4fd"/><path d="M93.8 443.8 Q103.0 442.1 113.7 446.3" stroke="#cdf4fd"/><path d="M81.3 403.1 Q84.2 401.3 92.7 401.8" stroke="#cdf4fd"/><path d="M66.9 434.2 Q80.4 435.6 90.2 431.8" stroke="#1f94d0"/><path d="M92.1 424.2 Q98.1 427.0 102.9 427.7" stroke="#cdf4fd"/><path d="M41.9 396.7 Q47.0 395.9 51.1 392.0" stroke="#1f94d0"/><path d="M44.9 447.8 Q51.0 447.2 62.2 443.7" stroke="#1f94d0"/><path d="M129.4 445.8 Q140.8 448.4 149.3 449.7" stroke="#cdf4fd"/><path d="M72.2 445.8 Q82.9 442.2 93.2 439.9" stroke="#cdf4fd"/><path d="M55.7 402.7 Q68.9 405.0 77.1 406.0" stroke="#cdf4fd"/><path d="M19.2 433.3 Q27.8 436.1 37.9 434.3" stroke="#cdf4fd"/><path d="M44.7 408.1 Q53.5 410.2 66.3 410.7" stroke="#1f94d0"/><path d="M34.2 395.8 Q46.9 397.8 55.0 397.1" stroke="#cdf4fd"/><path d="M60.3 423.7 Q63.3 426.5 68.8 427.9" stroke="#8ee2f8"/><path d="M29.3 393.8 Q36.2 389.1 41.8 388.2" stroke="#cdf4fd"/><path d="M82.3 430.8 Q88.7 432.5 100.3 434.3" stroke="#8ee2f8"/><path d="M129.4 411.1 Q139.1 412.3 143.7 416.8" stroke="#1f94d0"/><path d="M114.3 420.6 Q115.8 416.4 121.4 417.2" stroke="#cdf4fd"/><path d="M85.0 398.3 Q95.5 402.5 102.3 403.0" stroke="#1f94d0"/><path d="M125.1 449.4 Q134.1 448.5 147.9 452.3" stroke="#cdf4fd"/><path d="M31.8 414.5 Q42.4 411.6 50.0 413.7" stroke="#cdf4fd"/><path d="M75.7 414.5 Q81.4 412.7 88.6 408.7" stroke="#cdf4fd"/><path d="M130.2 448.7 Q138.5 443.7 144.3 441.2" stroke="#cdf4fd"/><path d="M67.3 413.2 Q76.8 414.6 87.8 418.4" stroke="#cdf4fd"/><path d="M95.6 439.3 Q100.2 441.9 106.8 440.2" stroke="#cdf4fd"/><path d="M11.6 417.2 Q17.0 413.6 27.6 412.7" stroke="#cdf4fd"/><path d="M67.1 451.1 Q76.1 448.9 80.0 451.6" stroke="#cdf4fd"/><path d="M110.4 392.3 Q113.0 392.4 121.5 395.5" stroke="#cdf4fd"/><path d="M54.8 423.0 Q61.1 420.7 61.7 419.1" stroke="#cdf4fd"/><path d="M16.1 408.7 Q22.4 409.8 28.6 416.1" stroke="#cdf4fd"/><path d="M106.2 418.1 Q118.0 419.9 128.1 420.1" stroke="#cdf4fd"/><path d="M8.1 438.2 Q20.8 439.7 29.6 436.3" stroke="#cdf4fd"/><path d="M134.9 437.4 Q139.9 438.5 141.5 440.5" stroke="#8ee2f8"/><path d="M134.2 405.0 Q139.4 403.3 145.0 404.2" stroke="#1f94d0"/><path d="M21.0 402.2 Q24.0 404.4 28.3 401.8" stroke="#8ee2f8"/><path d="M30.5 393.1 Q40.8 394.5 49.9 400.2" stroke="#cdf4fd"/><path d="M124.6 448.3 Q127.3 444.9 130.8 444.4" stroke="#1f94d0"/><path d="M53.5 438.5 Q62.5 437.3 65.9 433.6" stroke="#cdf4fd"/><path d="M19.4 430.6 Q25.5 430.3 31.7 429.1" stroke="#8ee2f8"/><path d="M36.3 426.1 Q44.9 422.1 50.7 422.5" stroke="#cdf4fd"/><path d="M96.7 392.5 Q102.8 394.9 108.7 396.0" stroke="#8ee2f8"/><path d="M12.3 422.0 Q15.7 416.5 21.0 416.8" stroke="#cdf4fd"/><path d="M63.5 431.3 Q68.3 435.0 72.6 436.1" stroke="#8ee2f8"/><path d="M128.5 451.3 Q135.3 447.9 136.9 449.6" stroke="#cdf4fd"/><path d="M100.7 423.7 Q110.6 422.8 122.9 421.2" stroke="#8ee2f8"/><path d="M22.9 413.1 Q29.3 412.7 39.1 413.0" stroke="#cdf4fd"/><path d="M16.4 412.5 Q24.4 407.3 35.2 404.8" stroke="#8ee2f8"/><path d="M101.4 407.7 Q107.8 411.2 115.7 413.0" stroke="#cdf4fd"/><path d="M39.2 444.6 Q48.3 441.7 61.3 443.2" stroke="#cdf4fd"/><path d="M101.2 425.7 Q105.3 424.2 105.5 422.8" stroke="#8ee2f8"/><path d="M10.2 427.3 Q18.2 424.7 24.8 420.7" stroke="#cdf4fd"/><path d="M128.4 398.7 Q132.4 392.5 141.3 391.5" stroke="#cdf4fd"/><path d="M89.4 445.5 Q93.6 448.4 96.0 447.1" stroke="#cdf4fd"/><path d="M103.1 407.5 Q107.5 407.0 108.7 406.3" stroke="#8ee2f8"/><path d="M65.5 401.3 Q72.9 398.1 74.9 398.4" stroke="#cdf4fd"/><path d="M50.9 396.7 Q60.3 394.2 67.9 395.5" stroke="#cdf4fd"/><path d="M68.9 433.2 Q79.5 430.7 85.1 432.4" stroke="#cdf4fd"/><path d="M69.2 424.2 Q76.2 426.6 81.2 430.0" stroke="#8ee2f8"/><path d="M113.7 409.6 Q116.9 410.1 121.8 405.8" stroke="#cdf4fd"/><path d="M86.8 430.4 Q91.2 431.1 92.3 433.7" stroke="#cdf4fd"/><path d="M87.2 442.7 Q93.4 442.2 94.0 443.2" stroke="#1f94d0"/><path d="M99.1 407.6 Q102.6 404.5 110.9 406.6" stroke="#1f94d0"/><path d="M58.4 444.2 Q60.5 444.6 66.4 439.7" stroke="#8ee2f8"/><path d="M121.5 422.4 Q125.0 417.1 131.7 417.5" stroke="#cdf4fd"/><path d="M42.7 398.5 Q56.8 398.4 65.5 398.7" stroke="#cdf4fd"/><path d="M104.9 398.9 Q111.6 399.3 112.4 399.2" stroke="#cdf4fd"/><path d="M40.4 425.1 Q43.2 428.0 49.4 430.7" stroke="#8ee2f8"/><path d="M54.6 430.0 Q60.8 432.4 63.3 434.5" stroke="#cdf4fd"/><path d="M12.0 448.3 Q21.4 448.5 25.9 447.9" stroke="#cdf4fd"/><path d="M41.9 436.6 Q50.0 435.6 55.0 433.3" stroke="#cdf4fd"/><path d="M31.4 433.7 Q37.9 432.4 38.5 435.4" stroke="#cdf4fd"/><path d="M16.7 418.8 Q25.1 421.2 37.6 421.3" stroke="#cdf4fd"/><path d="M80.4 407.1 Q85.1 404.4 87.2 406.1" stroke="#1f94d0"/><path d="M48.7 427.5 Q58.2 431.0 63.1 429.5" stroke="#cdf4fd"/><path d="M48.4 444.6 Q53.2 445.2 59.1 440.0" stroke="#cdf4fd"/><path d="M90.2 437.4 Q95.6 437.0 95.7 438.7" stroke="#8ee2f8"/><path d="M91.0 417.2 Q97.5 421.5 105.9 423.0" stroke="#cdf4fd"/><path d="M97.5 428.9 Q101.3 427.1 105.1 431.3" stroke="#8ee2f8"/><path d="M105.3 442.2 Q110.5 436.8 115.9 435.9" stroke="#cdf4fd"/><path d="M131.7 443.2 Q141.9 439.9 150.3 437.9" stroke="#1f94d0"/><path d="M34.8 408.4 Q40.9 406.1 46.1 400.9" stroke="#cdf4fd"/><path d="M61.5 410.4 Q67.9 413.4 73.1 413.3" stroke="#cdf4fd"/><path d="M94.2 395.7 Q101.7 390.6 113.4 390.8" stroke="#cdf4fd"/><path d="M104.6 398.4 Q113.3 397.9 118.4 397.8" stroke="#cdf4fd"/><path d="M8.2 439.7 Q17.9 442.6 23.5 444.1" stroke="#1f94d0"/><path d="M115.6 429.0 Q125.7 422.7 129.9 419.9" stroke="#cdf4fd"/><path d="M49.2 398.0 Q51.2 394.5 56.6 397.0" stroke="#cdf4fd"/><path d="M44.0 435.7 Q51.1 437.6 52.8 434.7" stroke="#1f94d0"/><path d="M33.2 416.2 Q37.0 415.6 46.5 415.5" stroke="#1f94d0"/><path d="M95.1 443.6 Q106.7 447.9 113.8 447.1" stroke="#8ee2f8"/><path d="M59.1 431.6 Q70.9 432.9 80.1 435.0" stroke="#cdf4fd"/><path d="M47.6 407.0 Q55.1 409.0 66.4 410.5" stroke="#8ee2f8"/><path d="M52.5 397.7 Q56.5 397.1 64.8 399.0" stroke="#cdf4fd"/><path d="M24.4 417.5 Q27.0 419.2 29.0 415.3" stroke="#8ee2f8"/><path d="M47.4 447.5 Q47.6 443.2 53.7 444.2" stroke="#cdf4fd"/><path d="M103.4 420.7 Q112.0 423.3 115.5 424.7" stroke="#cdf4fd"/><path d="M27.2 417.6 Q35.9 415.7 47.9 416.4" stroke="#8ee2f8"/><path d="M14.2 424.2 Q22.7 419.4 30.0 419.4" stroke="#1f94d0"/><path d="M57.9 411.2 Q64.8 415.6 74.0 417.8" stroke="#cdf4fd"/><path d="M72.5 397.0 Q84.2 395.7 94.2 400.1" stroke="#cdf4fd"/><path d="M66.0 418.6 Q70.2 414.2 74.9 415.0" stroke="#1f94d0"/><path d="M36.7 409.4 Q43.5 406.1 45.1 405.2" stroke="#cdf4fd"/><path d="M50.0 448.7 Q52.7 447.5 58.9 444.2" stroke="#cdf4fd"/><path d="M17.8 443.7 Q26.2 444.4 35.3 440.7" stroke="#cdf4fd"/><path d="M34.7 409.1 Q44.1 405.9 53.6 404.4" stroke="#cdf4fd"/><path d="M115.0 426.2 Q124.5 425.2 132.7 425.3" stroke="#cdf4fd"/><path d="M22.1 418.3 Q25.8 421.0 31.1 422.3" stroke="#cdf4fd"/><path d="M27.8 418.8 Q28.5 421.0 34.0 420.3" stroke="#8ee2f8"/><path d="M13.8 396.9 Q20.1 394.8 24.6 398.3" stroke="#cdf4fd"/><path d="M26.0 411.9 Q35.3 415.4 40.3 414.8" stroke="#cdf4fd"/><path d="M115.2 402.6 Q121.8 400.2 126.9 402.3" stroke="#8ee2f8"/><path d="M53.2 439.0 Q60.5 445.7 69.2 448.0" stroke="#8ee2f8"/><path d="M21.9 436.8 Q27.1 436.4 35.0 440.0" stroke="#cdf4fd"/><path d="M126.1 416.1 Q133.5 414.8 141.7 412.1" stroke="#cdf4fd"/><path d="M42.2 394.1 Q48.2 396.8 57.2 399.5" stroke="#cdf4fd"/><path d="M70.5 446.1 Q74.5 448.2 80.6 449.1" stroke="#cdf4fd"/><path d="M126.4 394.7 Q132.1 392.0 137.4 394.7" stroke="#cdf4fd"/><path d="M133.6 439.3 Q137.0 435.1 146.0 435.5" stroke="#cdf4fd"/><path d="M133.0 410.7 Q133.8 412.8 139.4 409.0" stroke="#1f94d0"/><path d="M124.6 442.1 Q127.3 442.2 133.9 445.0" stroke="#cdf4fd"/><path d="M27.8 435.2 Q29.7 437.3 34.0 435.1" stroke="#8ee2f8"/><path d="M99.8 435.9 Q105.0 439.3 111.7 441.8" stroke="#cdf4fd"/><path d="M9.7 407.6 Q11.3 405.9 17.9 407.3" stroke="#cdf4fd"/><path d="M129.4 421.2 Q137.9 423.2 145.4 427.3" stroke="#cdf4fd"/><path d="M46.2 430.1 Q53.1 431.3 62.5 436.7" stroke="#cdf4fd"/><path d="M81.0 405.7 Q83.0 401.5 88.2 400.8" stroke="#1f94d0"/><path d="M81.0 408.9 Q87.9 407.7 89.9 411.1" stroke="#cdf4fd"/><path d="M96.6 435.9 Q108.3 437.0 118.3 435.7" stroke="#cdf4fd"/><path d="M29.3 419.9 Q34.6 419.2 37.0 420.3" stroke="#cdf4fd"/><path d="M72.9 442.3 Q81.0 441.7 87.9 439.2" stroke="#cdf4fd"/><path d="M41.3 420.2 Q47.7 420.8 58.6 422.0" stroke="#cdf4fd"/><path d="M30.3 398.1 Q32.6 398.1 34.9 400.6" stroke="#cdf4fd"/><path d="M40.1 401.7 Q48.6 399.7 62.1 399.5" stroke="#1f94d0"/><path d="M86.2 393.2 Q93.5 391.5 96.0 390.4" stroke="#cdf4fd"/><path d="M67.4 421.1 Q76.0 418.1 82.0 415.3" stroke="#cdf4fd"/><path d="M105.2 449.4 Q108.5 450.7 111.8 450.1" stroke="#cdf4fd"/><path d="M94.0 414.1 Q103.3 417.6 110.6 416.0" stroke="#1f94d0"/><path d="M97.2 434.3 Q105.5 429.4 112.3 429.9" stroke="#1f94d0"/><path d="M34.5 421.5 Q45.6 421.6 53.5 422.0" stroke="#8ee2f8"/><path d="M62.6 426.0 Q67.6 431.2 70.1 431.0" stroke="#cdf4fd"/><path d="M106.0 431.1 Q118.3 429.4 126.2 431.9" stroke="#cdf4fd"/><path d="M85.0 433.9 Q93.9 435.5 98.9 442.2" stroke="#cdf4fd"/><path d="M123.7 448.8 Q130.7 450.4 134.5 451.7" stroke="#1f94d0"/><path d="M87.9 443.9 Q98.7 446.3 109.6 448.8" stroke="#1f94d0"/><path d="M78.0 394.9 Q82.0 394.6 86.0 399.7" stroke="#cdf4fd"/><path d="M125.7 408.6 Q133.8 407.6 145.0 404.6" stroke="#cdf4fd"/><path d="M121.5 420.6 Q125.8 416.7 131.7 418.8" stroke="#cdf4fd"/><path d="M24.3 410.9 Q33.6 412.3 44.7 416.7" stroke="#cdf4fd"/><path d="M86.8 420.7 Q91.3 415.9 98.7 415.3" stroke="#8ee2f8"/><path d="M18.7 418.4 Q27.9 419.3 32.7 422.4" stroke="#8ee2f8"/><path d="M10.7 445.7 Q12.2 448.4 16.7 445.3" stroke="#1f94d0"/><path d="M100.8 440.7 Q104.3 440.7 108.1 435.7" stroke="#8ee2f8"/><path d="M24.4 451.2 Q27.6 451.1 35.9 451.9" stroke="#cdf4fd"/><path d="M63.9 410.6 Q67.8 415.2 74.0 416.4" stroke="#cdf4fd"/><path d="M60.0 398.2 Q71.4 395.4 81.3 392.3" stroke="#1f94d0"/><path d="M92.4 423.3 Q93.8 420.4 100.8 422.1" stroke="#cdf4fd"/><path d="M6.3 432.5 Q10.1 431.6 16.1 430.9" stroke="#cdf4fd"/><path d="M115.8 421.0 Q120.8 420.0 121.2 418.1" stroke="#cdf4fd"/><path d="M97.7 394.8 Q107.4 396.1 115.2 402.9" stroke="#cdf4fd"/><path d="M113.8 427.6 Q115.6 426.3 122.6 424.8" stroke="#cdf4fd"/><path d="M62.9 445.7 Q70.2 446.2 74.1 451.1" stroke="#8ee2f8"/><path d="M117.5 421.0 Q124.8 421.9 126.2 425.0" stroke="#8ee2f8"/><path d="M113.8 448.1 Q115.9 449.8 120.5 449.7" stroke="#8ee2f8"/><path d="M93.5 394.3 Q97.4 391.8 105.3 392.5" stroke="#cdf4fd"/><path d="M53.5 408.0 Q65.4 408.5 76.2 406.0" stroke="#8ee2f8"/><path d="M9.0 444.8 Q14.0 444.6 16.1 441.3" stroke="#cdf4fd"/><path d="M66.9 435.3 Q69.9 432.7 76.3 434.7" stroke="#cdf4fd"/><path d="M128.8 449.0 Q133.9 449.7 141.7 447.0" stroke="#cdf4fd"/><path d="M27.2 445.0 Q29.4 444.7 32.1 447.7" stroke="#1f94d0"/><path d="M51.6 409.9 Q59.6 408.2 67.5 406.6" stroke="#1f94d0"/><path d="M66.5 448.8 Q79.2 448.9 86.7 447.6" stroke="#cdf4fd"/><path d="M107.7 434.7 Q111.4 429.9 119.2 430.8" stroke="#1f94d0"/><path d="M47.7 407.3 Q50.9 405.1 52.0 404.6" stroke="#cdf4fd"/><path d="M92.9 446.5 Q100.4 445.5 102.2 448.4" stroke="#cdf4fd"/><path d="M88.7 409.2 Q96.5 410.1 101.7 415.3" stroke="#8ee2f8"/><path d="M42.3 429.1 Q46.3 429.4 53.1 431.8" stroke="#8ee2f8"/><path d="M90.5 420.3 Q97.9 418.3 108.2 421.4" stroke="#cdf4fd"/><path d="M80.7 427.9 Q88.4 434.4 91.9 435.1" stroke="#cdf4fd"/><path d="M59.8 420.3 Q69.8 416.8 79.0 417.8" stroke="#8ee2f8"/><path d="M73.4 436.9 Q82.2 435.0 90.0 437.7" stroke="#cdf4fd"/><path d="M100.0 413.0 Q109.6 411.0 116.3 405.9" stroke="#cdf4fd"/><path d="M22.1 437.6 Q31.2 433.8 37.8 432.7" stroke="#cdf4fd"/><path d="M81.7 439.4 Q91.8 441.8 105.2 441.5" stroke="#cdf4fd"/><path d="M80.4 410.1 Q88.1 410.6 94.5 406.1" stroke="#cdf4fd"/><path d="M70.0 431.1 Q75.1 433.0 82.9 432.7" stroke="#cdf4fd"/><path d="M9.8 402.2 Q19.7 400.9 27.6 399.7" stroke="#8ee2f8"/><path d="M47.4 413.1 Q55.2 417.6 63.8 417.4" stroke="#cdf4fd"/><path d="M74.7 443.5 Q80.3 445.3 82.1 446.8" stroke="#8ee2f8"/><path d="M47.7 431.9 Q58.2 432.9 70.7 435.2" stroke="#cdf4fd"/><path d="M93.9 396.2 Q95.5 400.3 100.9 399.0" stroke="#cdf4fd"/><path d="M103.1 412.7 Q111.7 409.3 114.4 409.6" stroke="#8ee2f8"/><path d="M119.8 432.8 Q130.9 431.2 137.2 428.5" stroke="#cdf4fd"/><path d="M84.3 449.4 Q86.8 450.6 92.9 450.2" stroke="#cdf4fd"/><path d="M5.2 414.4 Q9.4 413.1 18.7 411.0" stroke="#1f94d0"/><path d="M46.2 426.9 Q56.8 428.0 66.4 427.4" stroke="#cdf4fd"/><path d="M112.0 397.8 Q122.3 391.0 128.6 390.2" stroke="#8ee2f8"/><path d="M84.2 443.4 Q87.8 446.2 96.1 445.9" stroke="#1f94d0"/><path d="M66.1 408.2 Q77.0 405.0 88.3 405.2" stroke="#8ee2f8"/><path d="M132.2 402.6 Q139.7 399.7 148.5 397.1" stroke="#1f94d0"/><path d="M40.5 427.7 Q45.1 425.8 49.1 424.9" stroke="#8ee2f8"/><path d="M23.6 447.0 Q26.8 444.5 34.7 444.2" stroke="#8ee2f8"/><path d="M52.1 442.2 Q56.2 445.6 64.2 449.9" stroke="#cdf4fd"/><path d="M37.5 412.1 Q45.1 408.0 52.5 406.4" stroke="#cdf4fd"/><path d="M23.5 398.9 Q27.3 397.2 30.8 398.4" stroke="#8ee2f8"/><path d="M39.7 443.4 Q46.0 450.4 55.5 452.3" stroke="#cdf4fd"/><path d="M120.0 419.8 Q126.9 419.3 130.6 420.3" stroke="#8ee2f8"/><path d="M97.0 417.7 Q100.1 414.7 104.2 413.3" stroke="#cdf4fd"/><path d="M5.7 420.1 Q15.6 425.3 23.3 428.3" stroke="#cdf4fd"/><path d="M134.9 439.4 Q145.0 439.4 149.8 438.8" stroke="#cdf4fd"/><path d="M45.0 431.9 Q59.5 434.7 68.0 431.6" stroke="#8ee2f8"/><path d="M10.7 396.4 Q21.0 393.3 30.7 393.1" stroke="#cdf4fd"/><path d="M37.5 399.6 Q43.4 394.4 53.1 393.2" stroke="#cdf4fd"/><path d="M22.0 442.0 Q33.8 445.0 43.0 445.2" stroke="#cdf4fd"/><path d="M60.0 414.8 Q70.6 415.4 82.0 412.4" stroke="#1f94d0"/><path d="M15.8 404.6 Q24.2 403.9 35.8 406.2" stroke="#cdf4fd"/><path d="M64.7 417.2 Q69.5 419.5 76.9 423.7" stroke="#cdf4fd"/><path d="M25.9 415.5 Q34.4 414.5 38.5 408.6" stroke="#cdf4fd"/><path d="M55.0 425.6 Q59.8 425.8 64.1 426.1" stroke="#cdf4fd"/><path d="M62.6 442.2 Q66.8 443.8 74.1 443.8" stroke="#cdf4fd"/><path d="M43.7 420.3 Q54.5 418.7 60.8 418.7" stroke="#cdf4fd"/><path d="M78.1 432.0 Q85.3 428.6 87.4 429.5" stroke="#1f94d0"/><path d="M38.8 421.5 Q42.0 424.0 49.1 421.0" stroke="#cdf4fd"/><path d="M23.5 436.3 Q29.8 438.6 32.8 435.1" stroke="#cdf4fd"/><path d="M96.9 415.8 Q104.5 420.4 107.4 423.0" stroke="#cdf4fd"/><path d="M62.4 434.3 Q68.5 435.6 68.6 431.9" stroke="#1f94d0"/><path d="M13.3 434.1 Q20.9 438.0 26.1 442.6" stroke="#1f94d0"/><path d="M125.4 422.0 Q131.2 421.6 131.6 418.7" stroke="#8ee2f8"/><path d="M24.2 398.3 Q30.5 397.9 37.2 400.8" stroke="#1f94d0"/><path d="M106.6 435.6 Q113.3 434.8 121.3 434.5" stroke="#cdf4fd"/><path d="M66.0 449.7 Q70.6 452.9 73.2 452.1" stroke="#cdf4fd"/><path d="M120.6 448.4 Q126.0 444.9 132.9 441.8" stroke="#cdf4fd"/><path d="M116.7 429.8 Q122.5 431.1 124.8 433.6" stroke="#cdf4fd"/><path d="M109.4 426.6 Q119.1 424.8 128.8 420.9" stroke="#8ee2f8"/><path d="M47.5 424.6 Q53.2 427.7 58.6 425.1" stroke="#1f94d0"/><path d="M39.5 433.0 Q46.7 433.0 51.9 434.4" stroke="#8ee2f8"/><path d="M55.4 441.4 Q58.6 438.3 63.9 439.7" stroke="#8ee2f8"/><path d="M134.4 417.0 Q146.3 412.7 154.0 411.5" stroke="#cdf4fd"/><path d="M69.7 399.9 Q73.1 396.0 81.1 396.3" stroke="#cdf4fd"/><path d="M44.1 446.9 Q48.8 452.1 56.3 454.3" stroke="#cdf4fd"/><path d="M118.1 417.4 Q128.5 420.8 136.5 421.1" stroke="#cdf4fd"/><path d="M24.7 414.1 Q25.7 414.3 29.3 416.8" stroke="#cdf4fd"/><path d="M118.2 402.3 Q119.6 402.5 123.0 400.0" stroke="#cdf4fd"/><path d="M89.0 422.8 Q92.7 424.6 101.9 420.9" stroke="#1f94d0"/><path d="M17.7 404.2 Q25.8 407.7 30.9 408.2" stroke="#cdf4fd"/><path d="M111.9 404.1 Q121.6 399.6 127.4 397.6" stroke="#cdf4fd"/><path d="M100.4 409.7 Q110.1 411.7 124.2 408.4" stroke="#8ee2f8"/><path d="M134.6 406.7 Q138.5 407.3 146.5 402.8" stroke="#cdf4fd"/><path d="M114.4 421.5 Q123.8 419.8 137.7 421.5" stroke="#8ee2f8"/><path d="M81.6 438.9 Q88.5 444.7 94.1 447.4" stroke="#cdf4fd"/><path d="M33.5 411.5 Q36.3 415.3 44.6 417.4" stroke="#8ee2f8"/><path d="M86.4 421.5 Q95.7 421.1 103.7 420.8" stroke="#8ee2f8"/><path d="M120.3 438.9 Q127.2 440.9 137.7 443.0" stroke="#cdf4fd"/><path d="M31.6 449.0 Q42.8 445.8 49.9 443.7" stroke="#cdf4fd"/><path d="M28.1 430.7 Q34.4 430.0 39.6 433.2" stroke="#1f94d0"/><path d="M106.6 439.0 Q111.7 438.1 122.8 440.0" stroke="#cdf4fd"/><path d="M14.4 396.4 Q21.0 401.2 26.9 403.8" stroke="#8ee2f8"/><path d="M87.5 417.6 Q101.8 414.3 110.6 415.1" stroke="#8ee2f8"/><path d="M88.6 412.6 Q95.2 414.0 98.8 414.7" stroke="#cdf4fd"/><path d="M12.3 446.2 Q17.8 451.5 25.8 454.1" stroke="#cdf4fd"/><path d="M76.0 412.7 Q79.1 412.2 87.2 412.4" stroke="#cdf4fd"/><path d="M27.8 411.9 Q33.1 408.1 32.8 409.7" stroke="#8ee2f8"/><path d="M59.6 399.2 Q64.4 399.0 74.6 398.2" stroke="#cdf4fd"/><path d="M43.8 434.7 Q47.0 438.8 51.3 437.6" stroke="#cdf4fd"/><path d="M20.3 406.8 Q26.2 411.5 30.0 410.9" stroke="#1f94d0"/><path d="M30.7 420.8 Q38.3 422.5 44.6 418.4" stroke="#1f94d0"/><path d="M71.1 440.7 Q76.9 439.3 80.6 440.7" stroke="#cdf4fd"/><path d="M55.5 421.1 Q62.5 418.6 63.9 416.0" stroke="#cdf4fd"/><path d="M64.4 433.9 Q71.5 432.6 77.7 433.9" stroke="#1f94d0"/><path d="M60.1 434.3 Q66.7 432.9 77.0 431.7" stroke="#cdf4fd"/><path d="M7.0 399.6 Q18.7 401.3 26.7 398.8" stroke="#8ee2f8"/><path d="M130.7 403.7 Q135.9 400.5 137.5 401.0" stroke="#cdf4fd"/><path d="M23.0 446.5 Q28.0 446.3 31.9 443.7" stroke="#cdf4fd"/><path d="M80.4 423.8 Q89.8 426.1 95.6 424.6" stroke="#8ee2f8"/><path d="M48.0 394.5 Q52.1 394.3 54.5 394.3" stroke="#1f94d0"/><path d="M113.3 436.0 Q120.3 437.9 124.6 438.2" stroke="#cdf4fd"/><path d="M118.0 420.4 Q124.7 420.4 127.5 420.7" stroke="#1f94d0"/><path d="M114.5 423.1 Q120.0 425.5 128.7 424.3" stroke="#8ee2f8"/><path d="M9.5 394.0 Q12.9 392.9 16.9 393.8" stroke="#cdf4fd"/><path d="M105.8 426.9 Q108.5 429.4 112.7 430.5" stroke="#8ee2f8"/><path d="M60.6 403.2 Q71.4 403.2 76.5 401.3" stroke="#8ee2f8"/><path d="M113.4 417.7 Q125.2 417.2 134.4 417.8" stroke="#cdf4fd"/><path d="M100.1 409.5 Q106.0 409.2 109.7 407.2" stroke="#8ee2f8"/><path d="M81.6 421.0 Q85.4 425.4 88.2 424.0" stroke="#cdf4fd"/><path d="M24.8 398.8 Q30.6 396.8 37.4 390.9" stroke="#8ee2f8"/><path d="M8.4 410.4 Q10.4 407.7 18.2 408.0" stroke="#cdf4fd"/><path d="M63.8 423.9 Q64.2 428.0 68.9 427.2" stroke="#cdf4fd"/><path d="M75.0 410.3 Q84.1 412.0 92.3 418.5" stroke="#cdf4fd"/><path d="M96.5 426.0 Q100.0 424.0 108.6 423.2" stroke="#8ee2f8"/><path d="M55.3 420.0 Q62.6 416.4 70.9 414.1" stroke="#8ee2f8"/><path d="M43.6 396.7 Q50.2 397.1 62.2 399.3" stroke="#8ee2f8"/><path d="M71.2 416.4 Q76.1 417.0 80.0 412.6" stroke="#1f94d0"/><path d="M130.9 416.5 Q134.4 411.5 139.6 411.8" stroke="#cdf4fd"/><path d="M123.4 445.7 Q129.3 442.5 129.3 443.2" stroke="#cdf4fd"/><path d="M34.4 404.5 Q40.8 399.0 43.9 398.6" stroke="#cdf4fd"/><path d="M22.2 439.3 Q30.5 441.1 38.4 447.2" stroke="#1f94d0"/><path d="M14.1 438.5 Q23.1 437.8 34.7 434.2" stroke="#cdf4fd"/><path d="M36.1 421.5 Q40.7 421.4 44.8 420.9" stroke="#1f94d0"/><path d="M49.1 428.9 Q54.2 428.4 62.3 424.5" stroke="#cdf4fd"/><path d="M42.8 396.2 Q48.6 392.4 57.6 393.1" stroke="#8ee2f8"/><path d="M45.4 405.0 Q57.2 406.3 66.1 402.9" stroke="#cdf4fd"/><path d="M48.5 422.1 Q57.0 421.0 61.3 414.9" stroke="#8ee2f8"/><path d="M89.1 440.2 Q94.6 441.2 104.1 437.0" stroke="#cdf4fd"/><path d="M27.9 451.1 Q34.8 452.4 37.5 452.2" stroke="#1f94d0"/><path d="M119.1 411.0 Q124.8 410.4 134.1 407.5" stroke="#cdf4fd"/><path d="M31.0 399.5 Q40.2 398.7 44.5 394.3" stroke="#8ee2f8"/><path d="M78.7 440.1 Q87.1 437.6 90.7 438.0" stroke="#1f94d0"/><path d="M78.8 395.1 Q91.2 395.3 99.0 396.5" stroke="#8ee2f8"/><path d="M9.9 446.4 Q19.4 448.7 29.4 450.0" stroke="#8ee2f8"/><path d="M34.1 403.0 Q42.2 405.9 53.6 408.3" stroke="#cdf4fd"/><path d="M45.4 442.6 Q54.1 438.4 63.9 438.4" stroke="#8ee2f8"/><path d="M24.2 398.1 Q25.4 393.5 32.3 393.0" stroke="#8ee2f8"/><path d="M38.1 434.9 Q37.8 431.8 43.5 433.2" stroke="#8ee2f8"/><path d="M64.4 407.0 Q69.3 401.5 76.4 400.0" stroke="#cdf4fd"/><path d="M97.5 412.5 Q102.5 410.0 106.8 413.1" stroke="#8ee2f8"/><path d="M125.7 426.5 Q133.7 426.8 138.8 426.2" stroke="#1f94d0"/><path d="M62.6 416.0 Q65.9 415.4 71.1 418.0" stroke="#cdf4fd"/><path d="M117.2 410.7 Q122.9 411.3 123.5 412.3" stroke="#1f94d0"/><path d="M18.8 428.2 Q21.1 429.2 28.3 431.5" stroke="#1f94d0"/><path d="M104.1 395.9 Q113.5 391.4 125.4 392.0" stroke="#8ee2f8"/><path d="M111.6 418.7 Q122.8 418.7 129.9 422.5" stroke="#1f94d0"/><path d="M125.1 439.3 Q134.5 442.4 138.1 439.6" stroke="#8ee2f8"/><path d="M70.8 445.6 Q74.5 448.8 82.6 450.8" stroke="#cdf4fd"/><path d="M48.5 426.1 Q59.2 428.8 66.1 426.1" stroke="#cdf4fd"/><path d="M129.0 411.4 Q141.3 409.9 147.9 408.4" stroke="#8ee2f8"/><path d="M112.4 410.9 Q120.7 410.0 134.8 413.5" stroke="#8ee2f8"/><path d="M78.6 417.2 Q82.5 418.2 90.7 421.1" stroke="#1f94d0"/><path d="M88.4 421.7 Q93.5 415.3 103.7 411.6" stroke="#8ee2f8"/></g>
<ellipse cx="70" cy="384" rx="56.5" ry="23.5" fill="#3dc0ed"/>
<g clip-path="url(#topClip)" fill="none" stroke-width="0.55" opacity="0.85"><path d="M118.9 390.4 A3.7 2.2 0 0 1 117.8 394.8" stroke="#1688c8"/><path d="M101.7 389.1 A4.4 2.7 0 0 1 105.0 384.5" stroke="#c4f2fc"/><path d="M26.2 389.0 A2.2 1.3 0 0 1 25.3 391.2" stroke="#c4f2fc"/><path d="M44.7 385.9 A4.8 2.9 0 0 1 41.5 380.5" stroke="#86def6"/><path d="M33.0 372.1 A2.9 1.7 0 0 1 29.0 372.4" stroke="#86def6"/><path d="M109.5 386.4 A2.9 1.8 0 0 1 108.6 389.2" stroke="#1688c8"/><path d="M91.1 394.6 A3.1 1.8 0 0 1 88.2 391.4" stroke="#c4f2fc"/><path d="M81.5 393.7 A2.1 1.3 0 0 1 79.9 395.6" stroke="#c4f2fc"/><path d="M79.4 379.7 A6.0 3.6 0 0 1 72.4 376.0" stroke="#c4f2fc"/><path d="M66.4 386.5 A2.9 1.8 0 0 1 61.2 388.0" stroke="#c4f2fc"/><path d="M43.3 380.6 A2.2 1.3 0 0 1 40.6 381.9" stroke="#1688c8"/><path d="M126.8 379.8 A5.9 3.5 0 0 1 117.7 382.2" stroke="#c4f2fc"/><path d="M76.3 364.6 A6.3 3.8 0 0 1 66.0 360.3" stroke="#1688c8"/><path d="M36.9 377.2 A3.3 2.0 0 0 1 30.4 377.9" stroke="#c4f2fc"/><path d="M98.7 390.4 A6.3 3.8 0 0 1 95.2 396.9" stroke="#1688c8"/><path d="M90.3 398.7 A2.6 1.6 0 0 1 93.3 396.1" stroke="#c4f2fc"/><path d="M121.3 381.4 A5.2 3.1 0 0 1 116.1 377.0" stroke="#86def6"/><path d="M85.3 382.8 A2.6 1.6 0 0 1 90.6 382.7" stroke="#c4f2fc"/><path d="M112.8 393.9 A2.7 1.6 0 0 1 116.5 396.3" stroke="#86def6"/><path d="M20.1 378.8 A2.7 1.6 0 0 1 22.7 380.7" stroke="#86def6"/><path d="M87.2 387.8 A6.3 3.8 0 0 1 76.9 391.5" stroke="#1688c8"/><path d="M75.9 386.0 A2.1 1.3 0 0 1 75.4 383.6" stroke="#c4f2fc"/><path d="M64.0 397.7 A3.7 2.2 0 0 1 62.3 401.7" stroke="#86def6"/><path d="M36.8 387.7 A4.1 2.5 0 0 1 43.0 387.1" stroke="#c4f2fc"/><path d="M37.4 399.3 A5.5 3.3 0 0 1 46.2 395.3" stroke="#c4f2fc"/><path d="M77.6 372.7 A3.5 2.1 0 0 1 71.6 371.8" stroke="#c4f2fc"/><path d="M59.9 388.7 A4.7 2.8 0 0 1 62.9 393.2" stroke="#c4f2fc"/><path d="M109.7 374.3 A2.3 1.4 0 0 1 110.9 371.6" stroke="#1688c8"/><path d="M76.9 406.8 A2.9 1.7 0 0 1 81.2 404.5" stroke="#1688c8"/><path d="M92.5 382.8 A2.5 1.5 0 0 1 90.0 385.2" stroke="#c4f2fc"/><path d="M93.5 390.7 A3.3 2.0 0 0 1 87.5 390.2" stroke="#1688c8"/><path d="M71.8 397.3 A2.8 1.7 0 0 1 76.6 398.5" stroke="#c4f2fc"/><path d="M98.8 383.0 A4.3 2.6 0 0 1 102.8 379.5" stroke="#c4f2fc"/><path d="M82.7 386.4 A4.0 2.4 0 0 1 76.7 385.1" stroke="#86def6"/><path d="M31.9 388.2 A5.2 3.1 0 0 1 32.8 382.8" stroke="#1688c8"/><path d="M31.2 372.6 A5.1 3.0 0 0 1 23.4 372.9" stroke="#c4f2fc"/><path d="M107.9 390.1 A3.6 2.2 0 0 1 104.1 387.6" stroke="#c4f2fc"/><path d="M60.9 368.1 A2.9 1.8 0 0 1 60.1 365.3" stroke="#c4f2fc"/><path d="M65.8 388.7 A4.4 2.7 0 0 1 57.8 387.9" stroke="#86def6"/><path d="M108.7 398.1 A5.9 3.6 0 0 1 115.4 392.2" stroke="#c4f2fc"/><path d="M118.2 377.2 A6.5 3.9 0 0 1 113.4 370.4" stroke="#1688c8"/><path d="M79.9 369.8 A2.6 1.5 0 0 1 78.6 372.4" stroke="#c4f2fc"/><path d="M109.9 385.5 A4.1 2.5 0 0 1 110.2 381.3" stroke="#1688c8"/><path d="M85.0 381.3 A5.2 3.1 0 0 1 87.3 376.1" stroke="#c4f2fc"/><path d="M97.0 398.6 A4.3 2.6 0 0 1 96.9 402.9" stroke="#1688c8"/><path d="M107.9 394.0 A4.6 2.7 0 0 1 115.6 394.1" stroke="#c4f2fc"/><path d="M61.5 387.0 A4.0 2.4 0 0 1 54.7 389.1" stroke="#c4f2fc"/><path d="M88.9 374.0 A6.2 3.7 0 0 1 88.7 367.6" stroke="#c4f2fc"/><path d="M38.4 393.6 A3.2 1.9 0 0 1 36.3 390.3" stroke="#86def6"/><path d="M116.6 394.4 A4.9 2.9 0 0 1 117.3 389.8" stroke="#c4f2fc"/><path d="M45.9 386.3 A4.1 2.5 0 0 1 51.5 382.9" stroke="#c4f2fc"/><path d="M84.7 378.4 A2.5 1.5 0 0 1 88.6 376.6" stroke="#1688c8"/><path d="M56.7 364.6 A4.8 2.9 0 0 1 64.9 367.6" stroke="#86def6"/><path d="M56.5 386.0 A2.1 1.3 0 0 1 52.9 385.3" stroke="#c4f2fc"/><path d="M113.1 387.1 A4.2 2.5 0 0 1 120.8 387.0" stroke="#86def6"/><path d="M98.5 380.6 A2.1 1.3 0 0 1 96.3 381.9" stroke="#1688c8"/><path d="M14.5 383.6 A4.3 2.6 0 0 1 17.5 379.1" stroke="#86def6"/><path d="M74.8 407.9 A5.2 3.1 0 0 1 69.1 404.1" stroke="#c4f2fc"/><path d="M26.8 381.7 A4.7 2.8 0 0 1 20.9 379.2" stroke="#c4f2fc"/><path d="M67.9 398.2 A6.0 3.6 0 0 1 67.7 404.8" stroke="#86def6"/><path d="M45.9 390.6 A4.4 2.6 0 0 1 44.9 385.3" stroke="#c4f2fc"/><path d="M105.3 374.9 A5.5 3.3 0 0 1 98.2 373.2" stroke="#c4f2fc"/><path d="M109.6 390.1 A3.1 1.9 0 0 1 115.3 389.1" stroke="#1688c8"/><path d="M52.6 369.7 A6.5 3.9 0 0 1 42.7 372.0" stroke="#c4f2fc"/><path d="M53.6 388.6 A4.2 2.5 0 0 1 52.3 384.0" stroke="#1688c8"/><path d="M31.9 368.7 A2.5 1.5 0 0 1 36.8 369.3" stroke="#1688c8"/><path d="M34.7 401.4 A6.1 3.6 0 0 1 41.4 397.2" stroke="#c4f2fc"/><path d="M85.2 395.0 A2.1 1.3 0 0 1 81.8 393.9" stroke="#c4f2fc"/><path d="M113.0 397.9 A3.8 2.3 0 0 1 105.5 397.6" stroke="#c4f2fc"/><path d="M43.8 405.1 A3.3 2.0 0 0 1 49.5 403.3" stroke="#86def6"/><path d="M24.3 390.3 A5.0 3.0 0 0 1 16.6 389.7" stroke="#c4f2fc"/><path d="M48.6 389.9 A6.4 3.8 0 0 1 57.0 395.5" stroke="#86def6"/><path d="M114.5 381.0 A4.1 2.5 0 0 1 120.1 378.9" stroke="#1688c8"/><path d="M97.7 381.4 A4.6 2.8 0 0 1 89.5 383.8" stroke="#1688c8"/><path d="M116.8 394.1 A4.1 2.4 0 0 1 110.5 392.8" stroke="#c4f2fc"/><path d="M109.4 393.3 A5.5 3.3 0 0 1 111.5 387.3" stroke="#c4f2fc"/><path d="M35.8 396.7 A4.4 2.7 0 0 1 29.0 397.6" stroke="#c4f2fc"/><path d="M30.8 387.1 A5.8 3.5 0 0 1 20.9 384.8" stroke="#1688c8"/><path d="M101.3 389.0 A5.5 3.3 0 0 1 98.9 383.3" stroke="#c4f2fc"/><path d="M60.9 399.1 A4.1 2.4 0 0 1 53.9 396.8" stroke="#c4f2fc"/><path d="M73.7 372.1 A3.9 2.3 0 0 1 80.9 370.9" stroke="#1688c8"/><path d="M58.5 372.9 A5.5 3.3 0 0 1 48.6 369.9" stroke="#1688c8"/><path d="M19.5 388.1 A5.5 3.3 0 0 1 20.2 393.3" stroke="#1688c8"/><path d="M64.1 406.2 A3.1 1.8 0 0 1 58.7 404.6" stroke="#c4f2fc"/><path d="M75.4 384.5 A2.8 1.7 0 0 1 80.1 386.3" stroke="#1688c8"/><path d="M106.6 399.5 A5.1 3.0 0 0 1 98.7 395.8" stroke="#1688c8"/><path d="M35.3 380.7 A4.3 2.6 0 0 1 31.7 377.3" stroke="#c4f2fc"/><path d="M64.0 393.4 A6.4 3.9 0 0 1 53.9 396.3" stroke="#86def6"/><path d="M70.9 388.2 A2.1 1.3 0 0 1 70.0 390.5" stroke="#c4f2fc"/><path d="M76.7 367.1 A6.2 3.7 0 0 1 87.0 363.0" stroke="#c4f2fc"/><path d="M59.2 383.2 A3.3 2.0 0 0 1 60.4 387.0" stroke="#86def6"/><path d="M22.3 384.8 A6.4 3.8 0 0 1 10.1 382.7" stroke="#c4f2fc"/><path d="M28.4 378.5 A6.3 3.8 0 0 1 24.3 371.4" stroke="#86def6"/><path d="M82.7 388.6 A2.2 1.3 0 0 1 79.5 390.1" stroke="#1688c8"/><path d="M72.2 401.2 A4.5 2.7 0 0 1 74.5 405.4" stroke="#c4f2fc"/><path d="M110.5 397.8 A2.9 1.8 0 0 1 107.2 396.0" stroke="#86def6"/><path d="M64.1 377.7 A6.0 3.6 0 0 1 64.7 383.4" stroke="#1688c8"/><path d="M64.1 359.5 A6.0 3.6 0 0 1 69.6 364.4" stroke="#1688c8"/><path d="M46.6 382.0 A2.7 1.6 0 0 1 41.6 380.8" stroke="#1688c8"/><path d="M93.4 396.5 A6.1 3.7 0 0 1 98.5 402.3" stroke="#1688c8"/><path d="M98.0 365.7 A2.1 1.2 0 0 1 96.5 367.6" stroke="#86def6"/><path d="M124.0 381.5 A4.4 2.6 0 0 1 117.5 382.4" stroke="#86def6"/><path d="M86.3 373.7 A2.9 1.7 0 0 1 82.6 371.4" stroke="#c4f2fc"/><path d="M46.1 370.8 A4.5 2.7 0 0 1 52.0 366.6" stroke="#c4f2fc"/><path d="M78.7 372.6 A4.3 2.6 0 0 1 73.4 375.7" stroke="#c4f2fc"/><path d="M63.3 380.2 A3.5 2.1 0 0 1 64.4 383.7" stroke="#c4f2fc"/><path d="M55.0 387.4 A5.3 3.2 0 0 1 50.0 383.7" stroke="#1688c8"/><path d="M118.4 381.6 A6.2 3.7 0 0 1 130.1 383.7" stroke="#1688c8"/><path d="M98.7 388.0 A5.1 3.1 0 0 1 104.5 392.2" stroke="#86def6"/><path d="M79.6 386.5 A4.8 2.9 0 0 1 80.7 381.3" stroke="#86def6"/><path d="M33.1 377.5 A4.7 2.8 0 0 1 38.6 374.7" stroke="#c4f2fc"/><path d="M103.0 368.9 A4.2 2.5 0 0 1 96.7 369.0" stroke="#86def6"/><path d="M64.5 383.7 A2.3 1.4 0 0 1 61.8 381.4" stroke="#86def6"/><path d="M119.9 381.9 A4.3 2.6 0 0 1 121.8 377.3" stroke="#c4f2fc"/><path d="M51.9 367.5 A5.3 3.2 0 0 1 46.1 372.7" stroke="#c4f2fc"/><path d="M99.4 379.3 A6.1 3.7 0 0 1 104.8 373.7" stroke="#86def6"/><path d="M53.4 371.7 A4.8 2.9 0 0 1 45.0 368.8" stroke="#c4f2fc"/><path d="M88.2 368.9 A5.1 3.1 0 0 1 89.7 362.8" stroke="#1688c8"/><path d="M30.8 373.1 A5.2 3.1 0 0 1 29.6 378.5" stroke="#c4f2fc"/><path d="M51.7 377.1 A6.0 3.6 0 0 1 62.3 374.9" stroke="#c4f2fc"/><path d="M62.3 375.7 A2.1 1.3 0 0 1 63.2 377.8" stroke="#c4f2fc"/><path d="M70.6 400.5 A6.3 3.8 0 0 1 58.6 400.1" stroke="#c4f2fc"/><path d="M55.8 373.3 A5.6 3.4 0 0 1 49.7 378.3" stroke="#c4f2fc"/><path d="M51.3 386.0 A3.9 2.4 0 0 1 55.9 387.7" stroke="#1688c8"/><path d="M114.6 390.9 A3.6 2.1 0 0 1 119.3 393.4" stroke="#1688c8"/><path d="M101.6 385.3 A5.4 3.2 0 0 1 101.9 391.4" stroke="#86def6"/><path d="M96.2 363.9 A2.9 1.7 0 0 1 94.8 366.5" stroke="#86def6"/><path d="M93.1 363.9 A6.0 3.6 0 0 1 100.0 368.7" stroke="#c4f2fc"/><path d="M92.9 387.5 A4.6 2.8 0 0 1 90.3 392.5" stroke="#86def6"/><path d="M59.5 373.8 A4.3 2.6 0 0 1 67.0 371.5" stroke="#c4f2fc"/><path d="M45.9 366.6 A2.6 1.5 0 0 1 47.7 363.8" stroke="#1688c8"/><path d="M60.0 401.1 A4.2 2.5 0 0 1 53.3 403.8" stroke="#c4f2fc"/><path d="M36.5 396.5 A4.7 2.8 0 0 1 27.9 398.6" stroke="#1688c8"/><path d="M26.7 379.7 A5.6 3.3 0 0 1 15.8 381.0" stroke="#86def6"/><path d="M60.2 394.2 A2.3 1.4 0 0 1 63.8 395.3" stroke="#1688c8"/><path d="M68.6 371.7 A4.3 2.6 0 0 1 60.2 372.4" stroke="#c4f2fc"/><path d="M49.1 389.5 A5.3 3.2 0 0 1 59.1 387.6" stroke="#c4f2fc"/><path d="M84.3 396.4 A3.1 1.8 0 0 1 81.2 393.3" stroke="#c4f2fc"/><path d="M97.4 387.7 A2.4 1.5 0 0 1 101.1 386.8" stroke="#86def6"/><path d="M110.4 387.5 A6.0 3.6 0 0 1 117.7 383.4" stroke="#86def6"/><path d="M89.9 390.8 A2.5 1.5 0 0 1 92.8 392.3" stroke="#86def6"/><path d="M92.2 374.0 A4.7 2.8 0 0 1 99.7 376.0" stroke="#1688c8"/><path d="M56.3 391.5 A5.5 3.3 0 0 1 65.2 395.0" stroke="#1688c8"/><path d="M79.8 367.4 A3.2 1.9 0 0 1 75.7 364.5" stroke="#c4f2fc"/><path d="M98.8 386.7 A2.6 1.6 0 0 1 98.5 389.6" stroke="#c4f2fc"/><path d="M101.4 381.0 A6.0 3.6 0 0 1 90.4 383.9" stroke="#1688c8"/><path d="M34.9 391.9 A5.1 3.1 0 0 1 36.5 397.9" stroke="#c4f2fc"/><path d="M54.4 366.0 A5.0 3.0 0 0 1 57.7 371.6" stroke="#1688c8"/><path d="M42.3 386.5 A5.6 3.4 0 0 1 51.5 387.9" stroke="#c4f2fc"/><path d="M45.2 377.5 A5.1 3.0 0 0 1 47.7 372.4" stroke="#86def6"/><path d="M81.9 404.5 A3.9 2.4 0 0 1 76.0 404.4" stroke="#86def6"/><path d="M79.7 380.9 A2.2 1.3 0 0 1 82.3 378.8" stroke="#c4f2fc"/><path d="M59.2 370.6 A4.3 2.6 0 0 1 52.4 373.7" stroke="#1688c8"/><path d="M69.0 383.7 A5.9 3.5 0 0 1 68.0 376.7" stroke="#1688c8"/><path d="M95.4 362.6 A3.2 1.9 0 0 1 90.9 365.3" stroke="#c4f2fc"/><path d="M113.7 388.8 A6.0 3.6 0 0 1 116.5 381.9" stroke="#c4f2fc"/><path d="M68.7 377.0 A3.4 2.1 0 0 1 74.9 375.4" stroke="#86def6"/><path d="M31.5 398.2 A2.5 1.5 0 0 1 28.9 399.9" stroke="#1688c8"/><path d="M71.0 373.6 A5.8 3.5 0 0 1 63.6 371.8" stroke="#c4f2fc"/><path d="M67.7 363.8 A4.1 2.5 0 0 1 75.6 362.7" stroke="#c4f2fc"/><path d="M59.5 403.7 A5.6 3.4 0 0 1 59.5 397.0" stroke="#c4f2fc"/><path d="M78.5 378.7 A6.2 3.7 0 0 1 87.4 375.5" stroke="#1688c8"/><path d="M53.5 388.4 A5.3 3.2 0 0 1 61.9 384.6" stroke="#c4f2fc"/><path d="M44.4 364.6 A4.2 2.5 0 0 1 50.4 362.1" stroke="#c4f2fc"/><path d="M110.3 371.5 A6.5 3.9 0 0 1 112.7 379.1" stroke="#c4f2fc"/><path d="M87.3 400.2 A5.6 3.3 0 0 1 96.9 401.2" stroke="#c4f2fc"/><path d="M92.4 392.3 A2.6 1.6 0 0 1 89.0 390.5" stroke="#86def6"/><path d="M96.4 383.6 A3.7 2.2 0 0 1 100.2 380.0" stroke="#c4f2fc"/><path d="M14.8 379.0 A5.3 3.2 0 0 1 18.8 383.5" stroke="#86def6"/><path d="M112.6 383.4 A4.3 2.6 0 0 1 114.5 388.4" stroke="#c4f2fc"/><path d="M71.1 382.2 A4.2 2.5 0 0 1 79.4 381.5" stroke="#1688c8"/><path d="M49.1 364.2 A6.5 3.9 0 0 1 53.6 370.8" stroke="#86def6"/><path d="M103.0 378.1 A3.3 2.0 0 0 1 98.8 376.9" stroke="#c4f2fc"/><path d="M19.3 390.0 A6.4 3.8 0 0 1 13.5 385.8" stroke="#86def6"/><path d="M83.3 402.8 A2.4 1.4 0 0 1 80.8 405.2" stroke="#86def6"/><path d="M86.5 378.1 A2.7 1.6 0 0 1 82.4 377.3" stroke="#1688c8"/><path d="M32.7 397.9 A3.1 1.9 0 0 1 38.1 397.9" stroke="#1688c8"/><path d="M77.5 363.2 A3.5 2.1 0 0 1 82.7 365.4" stroke="#c4f2fc"/><path d="M42.8 400.7 A6.0 3.6 0 0 1 53.6 398.2" stroke="#86def6"/><path d="M97.6 403.1 A5.4 3.2 0 0 1 90.1 399.3" stroke="#1688c8"/><path d="M83.3 363.0 A2.4 1.4 0 0 1 78.6 362.8" stroke="#1688c8"/><path d="M59.4 370.2 A4.6 2.8 0 0 1 56.1 365.7" stroke="#c4f2fc"/><path d="M38.3 364.7 A5.0 3.0 0 0 1 44.1 369.4" stroke="#c4f2fc"/><path d="M83.9 361.2 A4.9 2.9 0 0 1 83.8 366.3" stroke="#86def6"/><path d="M36.7 380.7 A4.0 2.4 0 0 1 29.3 382.2" stroke="#1688c8"/><path d="M90.9 374.6 A4.1 2.4 0 0 1 97.4 372.1" stroke="#c4f2fc"/><path d="M95.4 383.6 A4.1 2.5 0 0 1 97.3 380.3" stroke="#c4f2fc"/><path d="M79.7 372.2 A5.8 3.5 0 0 1 88.8 376.4" stroke="#1688c8"/><path d="M95.5 367.4 A5.9 3.5 0 0 1 92.5 373.9" stroke="#1688c8"/><path d="M94.3 405.0 A3.3 2.0 0 0 1 98.6 402.7" stroke="#86def6"/><path d="M89.1 367.3 A3.3 2.0 0 0 1 93.0 365.9" stroke="#c4f2fc"/><path d="M81.4 401.7 A5.1 3.1 0 0 1 78.1 406.6" stroke="#86def6"/><path d="M38.6 375.6 A5.0 3.0 0 0 1 33.5 372.8" stroke="#1688c8"/><path d="M18.8 390.4 A2.5 1.5 0 0 1 22.4 391.7" stroke="#c4f2fc"/><path d="M116.9 386.0 A5.3 3.2 0 0 1 111.4 383.0" stroke="#c4f2fc"/><path d="M82.5 398.3 A2.7 1.6 0 0 1 78.2 396.9" stroke="#c4f2fc"/><path d="M53.2 393.3 A3.6 2.2 0 0 1 52.3 397.6" stroke="#86def6"/><path d="M56.6 387.8 A2.9 1.7 0 0 1 53.6 385.0" stroke="#86def6"/><path d="M113.4 383.9 A3.6 2.2 0 0 1 116.9 380.2" stroke="#c4f2fc"/><path d="M58.3 386.3 A4.1 2.5 0 0 1 53.4 389.4" stroke="#1688c8"/><path d="M45.7 380.4 A2.2 1.3 0 0 1 44.3 378.1" stroke="#c4f2fc"/><path d="M81.7 366.1 A3.4 2.0 0 0 1 88.2 367.1" stroke="#1688c8"/><path d="M38.9 372.8 A5.5 3.3 0 0 1 31.4 376.0" stroke="#c4f2fc"/><path d="M62.9 403.7 A4.7 2.8 0 0 1 61.6 407.7" stroke="#c4f2fc"/><path d="M108.3 381.0 A2.5 1.5 0 0 1 110.5 382.6" stroke="#c4f2fc"/><path d="M93.8 393.5 A4.3 2.6 0 0 1 100.0 397.1" stroke="#c4f2fc"/><path d="M54.1 387.8 A3.1 1.8 0 0 1 50.3 390.0" stroke="#1688c8"/><path d="M28.1 375.0 A4.6 2.8 0 0 1 35.8 372.1" stroke="#c4f2fc"/><path d="M60.1 378.1 A2.5 1.5 0 0 1 55.6 377.4" stroke="#86def6"/><path d="M41.8 395.5 A5.2 3.1 0 0 1 42.4 389.3" stroke="#1688c8"/></g>
<path d="M14,386 A56,22 0 0 0 126,386" fill="none" stroke="#a6e8fa" stroke-width="1.3" opacity="0.7"/>
<text class="s" x="4.5" y="480.5" font-size="15.8">RGO/TiO<tspan font-size="10" dy="3.2">2</tspan><tspan dy="-3.2"> nanofibers</tspan></text>
<line x1="115.8" y1="361.8" x2="202" y2="279" stroke="#4a7fd8" stroke-width="1.1" stroke-dasharray="3.2,2.2"/>
<line x1="117" y1="433" x2="202" y2="516" stroke="#4a7fd8" stroke-width="1.1" stroke-dasharray="3.2,2.2"/>
<rect x="203.3" y="278.2" width="310.3" height="237.8" fill="none" stroke="#6a92de" stroke-width="1.4"/>
<g fill="#f7923e" stroke="#ffd23a" stroke-width="0.9" stroke-linejoin="round"><polygon points="246.70,281.80 249.70,289.30 243.70,289.30"/><polygon points="259.29,287.01 256.10,294.44 251.86,290.20"/><polygon points="264.50,299.60 257.00,302.60 257.00,296.60"/><polygon points="259.29,312.19 251.86,309.00 256.10,304.76"/><polygon points="246.70,317.40 243.70,309.90 249.70,309.90"/><polygon points="234.11,312.19 237.30,304.76 241.54,309.00"/><polygon points="228.90,299.60 236.40,296.60 236.40,302.60"/><polygon points="234.11,287.01 241.54,290.20 237.30,294.44"/></g>
<circle cx="246.7" cy="299.6" r="8.6" fill="url(#gSun)" stroke="#ffe04a" stroke-width="1"/>
<polygon points="262.4,318.2 277.6,313.1 285.5,321.5 283.8,322.8 292,329.5 290,331 302,341.6 281.5,333.5 283.2,332 272,326.5 273.8,324.6" fill="url(#gBolt)"/>
<path d="M373.00 395.70 L372.96 399.61 L372.84 403.14 L372.63 406.53 L372.35 409.80 L371.98 412.99 L371.54 416.09 L371.02 419.11 L370.42 422.03 L369.74 424.87 L368.99 427.61 L368.17 430.25 L367.27 432.79 L366.31 435.22 L365.28 437.54 L364.18 439.74 L363.02 441.83 L361.80 443.79 L360.52 445.62 L359.18 447.32 L357.79 448.89 L356.35 450.31 L354.86 451.60 L353.32 452.73 L351.73 453.73 L350.10 454.57 L348.42 455.26 L346.70 455.80 L344.92 456.19 L343.06 456.42 L341.00 456.50 L338.94 456.42 L337.08 456.19 L335.30 455.80 L333.58 455.26 L331.90 454.57 L330.27 453.73 L328.68 452.73 L327.14 451.60 L325.65 450.31 L324.21 448.89 L322.82 447.32 L321.48 445.62 L320.20 443.79 L318.98 441.83 L317.82 439.74 L316.72 437.54 L315.69 435.22 L314.73 432.79 L313.83 430.25 L313.01 427.61 L312.26 424.87 L311.58 422.03 L310.98 419.11 L310.46 416.09 L310.02 412.99 L309.65 409.80 L309.37 406.53 L309.16 403.14 L309.04 399.61 L309.00 395.70 L309.04 392.51 L309.18 389.33 L309.39 386.17 L309.70 383.04 L310.09 379.94 L310.57 376.88 L311.13 373.88 L311.77 370.93 L312.49 368.05 L313.29 365.25 L314.16 362.53 L315.11 359.90 L316.13 357.37 L317.22 354.95 L318.37 352.64 L319.59 350.44 L320.86 348.37 L322.19 346.43 L323.57 344.62 L325.00 342.96 L326.47 341.44 L327.98 340.07 L329.53 338.84 L331.11 337.78 L332.72 336.88 L334.35 336.13 L335.99 335.55 L337.66 335.13 L339.33 334.88 L341.00 334.80 L342.67 334.88 L344.34 335.13 L346.01 335.55 L347.65 336.13 L349.28 336.88 L350.89 337.78 L352.47 338.84 L354.02 340.07 L355.53 341.44 L357.00 342.96 L358.43 344.62 L359.81 346.43 L361.14 348.37 L362.41 350.44 L363.63 352.64 L364.78 354.95 L365.87 357.37 L366.89 359.90 L367.84 362.53 L368.71 365.25 L369.51 368.05 L370.23 370.93 L370.87 373.88 L371.43 376.88 L371.91 379.94 L372.30 383.04 L372.61 386.17 L372.82 389.33 L372.96 392.51Z" fill="#7c36bd" stroke="#5a2392" stroke-width="1"/>
<path d="M317.00 362.32 L317.83 360.07 L318.72 357.90 L319.66 355.82 L320.65 353.83 L321.68 351.94 L322.76 350.15 L323.88 348.47 L325.04 346.89 L326.24 345.42 L327.47 344.08 L328.73 342.85 L330.02 341.74 L331.34 340.75 L332.68 339.90 L334.04 339.17 L335.41 338.57 L336.80 338.10 L338.19 337.77 L339.59 337.57 L341.00 337.50 L342.41 337.57 L343.81 337.77 L345.20 338.10 L346.59 338.57 L347.96 339.17 L349.32 339.90 L350.66 340.75 L351.98 341.74 L353.27 342.85 L354.53 344.08 L355.76 345.42 L356.96 346.89 L358.12 348.47 L359.24 350.15 L360.32 351.94 L361.35 353.83 L362.34 355.82 L363.28 357.90 L364.17 360.07 L365.00 362.32" fill="none" stroke="#9b5fd8" stroke-width="1.2" opacity="0.75"/>
<path d="M432.20 396.20 L432.06 401.45 L431.87 405.54 L431.61 409.26 L431.29 412.76 L430.89 416.07 L430.43 419.24 L429.90 422.27 L429.31 425.17 L428.64 427.94 L427.91 430.60 L427.11 433.14 L426.25 435.57 L425.32 437.87 L424.33 440.06 L423.28 442.12 L422.17 444.07 L420.99 445.88 L419.76 447.58 L418.47 449.14 L417.12 450.58 L415.71 451.88 L414.24 453.05 L412.71 454.09 L411.11 454.99 L409.45 455.75 L407.71 456.38 L405.88 456.87 L403.94 457.22 L401.81 457.43 L399.07 457.50 L396.35 457.43 L394.22 457.22 L392.29 456.87 L390.48 456.38 L388.77 455.75 L387.14 454.99 L385.58 454.09 L384.09 453.05 L382.67 451.88 L381.31 450.58 L380.02 449.14 L378.79 447.58 L377.62 445.88 L376.52 444.07 L375.48 442.12 L374.51 440.06 L373.61 437.87 L372.78 435.57 L372.01 433.14 L371.32 430.60 L370.69 427.94 L370.14 425.17 L369.65 422.27 L369.25 419.24 L368.91 416.07 L368.65 412.76 L368.47 409.26 L368.36 405.54 L368.33 401.45 L368.40 396.20 L368.51 392.99 L368.70 389.78 L368.98 386.59 L369.35 383.43 L369.80 380.31 L370.34 377.23 L370.96 374.20 L371.66 371.23 L372.43 368.32 L373.29 365.50 L374.22 362.76 L375.21 360.11 L376.28 357.56 L377.42 355.12 L378.61 352.78 L379.87 350.57 L381.18 348.48 L382.54 346.53 L383.96 344.71 L385.41 343.03 L386.91 341.49 L388.45 340.11 L390.01 338.88 L391.61 337.81 L393.23 336.89 L394.87 336.14 L396.52 335.56 L398.19 335.14 L399.86 334.88 L401.53 334.80 L403.20 334.88 L404.86 335.14 L406.50 335.56 L408.13 336.14 L409.74 336.89 L411.33 337.81 L412.88 338.88 L414.40 340.11 L415.88 341.49 L417.31 343.03 L418.70 344.71 L420.04 346.53 L421.33 348.48 L422.56 350.57 L423.73 352.78 L424.83 355.12 L425.86 357.56 L426.83 360.11 L427.72 362.76 L428.54 365.50 L429.28 368.32 L429.94 371.23 L430.52 374.20 L431.02 377.23 L431.43 380.31 L431.76 383.43 L432.00 386.59 L432.15 389.78 L432.22 392.99Z" fill="#c3e0a2" stroke="#86b06a" stroke-width="1.1"/>
<path d="M377.05 362.53 L377.93 360.26 L378.86 358.08 L379.84 355.98 L380.86 353.97 L381.93 352.07 L383.04 350.26 L384.19 348.56 L385.38 346.97 L386.60 345.49 L387.86 344.13 L389.14 342.89 L390.45 341.77 L391.78 340.78 L393.13 339.92 L394.50 339.18 L395.88 338.58 L397.27 338.11 L398.67 337.77 L400.07 337.57 L401.47 337.50 L402.87 337.57 L404.27 337.77 L405.65 338.11 L407.02 338.58 L408.38 339.18 L409.72 339.92 L411.04 340.78 L412.33 341.77 L413.59 342.89 L414.82 344.13 L416.02 345.49 L417.19 346.97 L418.31 348.56 L419.40 350.26 L420.44 352.07 L421.43 353.97 L422.37 355.98 L423.27 358.08 L424.11 360.26 L424.89 362.53" fill="none" stroke="#e2f2d0" stroke-width="1.3" opacity="0.9"/>
<rect x="313.2" y="361.1" width="54.8" height="2.9" fill="#f5822e"/>
<rect x="313.2" y="423.6" width="55.3" height="2.9" fill="#f5822e"/>
<rect x="371.2" y="364.3" width="55.8" height="2.9" fill="#f5822e"/>
<rect x="370.5" y="423.6" width="57" height="2.9" fill="#f5822e"/>
<line x1="345.5" y1="366" x2="345.5" y2="423.6" stroke="#f6b400" stroke-width="1.9"/><polygon points="343.3,367.5 345.5,364.2 347.7,367.5" fill="#f6b400"/>
<line x1="412.9" y1="369" x2="412.9" y2="423.6" stroke="#f6b400" stroke-width="1.9"/><polygon points="410.7,370.5 412.9,367.3 415.1,370.5" fill="#f6b400"/>
<circle cx="321.5" cy="357.2" r="3.6" fill="url(#gE)"/><text class="s" x="321.5" y="359.4" font-size="7.4" text-anchor="middle" fill="#021c22" style="stroke:none">e</text>
<circle cx="333.4" cy="357.2" r="3.6" fill="url(#gE)"/><text class="s" x="333.4" y="359.4" font-size="7.4" text-anchor="middle" fill="#021c22" style="stroke:none">e</text>
<circle cx="346.1" cy="357.2" r="3.6" fill="url(#gE)"/><text class="s" x="346.1" y="359.4" font-size="7.4" text-anchor="middle" fill="#021c22" style="stroke:none">e</text>
<circle cx="358.6" cy="357.2" r="3.6" fill="url(#gE)"/><text class="s" x="358.6" y="359.4" font-size="7.4" text-anchor="middle" fill="#021c22" style="stroke:none">e</text>
<circle cx="379.7" cy="359.6" r="3.6" fill="url(#gE)"/><text class="s" x="379.7" y="361.8" font-size="7.4" text-anchor="middle" fill="#021c22" style="stroke:none">e</text>
<circle cx="392.6" cy="359.6" r="3.6" fill="url(#gE)"/><text class="s" x="392.6" y="361.8" font-size="7.4" text-anchor="middle" fill="#021c22" style="stroke:none">e</text>
<circle cx="404.5" cy="359.6" r="3.6" fill="url(#gE)"/><text class="s" x="404.5" y="361.8" font-size="7.4" text-anchor="middle" fill="#021c22" style="stroke:none">e</text>
<circle cx="418.2" cy="359.6" r="3.6" fill="url(#gE)"/><text class="s" x="418.2" y="361.8" font-size="7.4" text-anchor="middle" fill="#021c22" style="stroke:none">e</text>
<circle cx="439.1" cy="362.7" r="3.6" fill="url(#gE)"/><text class="s" x="439.1" y="364.9" font-size="7.4" text-anchor="middle" fill="#021c22" style="stroke:none">e</text>
<circle cx="320.2" cy="431.3" r="3.4" fill="url(#gH)"/><text class="s" x="320.2" y="433.0" font-size="5.2" text-anchor="middle" fill="#3a0030" style="stroke:none">h<tspan font-size="3.5" dy="-2">+</tspan></text>
<circle cx="332.8" cy="431.3" r="3.4" fill="url(#gH)"/><text class="s" x="332.8" y="433.0" font-size="5.2" text-anchor="middle" fill="#3a0030" style="stroke:none">h<tspan font-size="3.5" dy="-2">+</tspan></text>
<circle cx="345.1" cy="431.3" r="3.4" fill="url(#gH)"/><text class="s" x="345.1" y="433.0" font-size="5.2" text-anchor="middle" fill="#3a0030" style="stroke:none">h<tspan font-size="3.5" dy="-2">+</tspan></text>
<circle cx="357.2" cy="431.3" r="3.4" fill="url(#gH)"/><text class="s" x="357.2" y="433.0" font-size="5.2" text-anchor="middle" fill="#3a0030" style="stroke:none">h<tspan font-size="3.5" dy="-2">+</tspan></text>
<circle cx="381.6" cy="431.6" r="3.4" fill="url(#gH)"/><text class="s" x="381.6" y="433.3" font-size="5.2" text-anchor="middle" fill="#3a0030" style="stroke:none">h<tspan font-size="3.5" dy="-2">+</tspan></text>
<circle cx="393.3" cy="431.6" r="3.4" fill="url(#gH)"/><text class="s" x="393.3" y="433.3" font-size="5.2" text-anchor="middle" fill="#3a0030" style="stroke:none">h<tspan font-size="3.5" dy="-2">+</tspan></text>
<circle cx="404.9" cy="431.6" r="3.4" fill="url(#gH)"/><text class="s" x="404.9" y="433.3" font-size="5.2" text-anchor="middle" fill="#3a0030" style="stroke:none">h<tspan font-size="3.5" dy="-2">+</tspan></text>
<circle cx="416.7" cy="431.6" r="3.4" fill="url(#gH)"/><text class="s" x="416.7" y="433.3" font-size="5.2" text-anchor="middle" fill="#3a0030" style="stroke:none">h<tspan font-size="3.5" dy="-2">+</tspan></text>
<circle cx="368.6" cy="432.6" r="3.4" fill="url(#gH)"/><text class="s" x="368.6" y="434.3" font-size="5.2" text-anchor="middle" fill="#3a0030" style="stroke:none">h<tspan font-size="3.5" dy="-2">+</tspan></text>
<circle cx="304.6" cy="415.0" r="3.4" fill="url(#gH)"/><text class="s" x="304.6" y="416.7" font-size="5.2" text-anchor="middle" fill="#3a0030" style="stroke:none">h<tspan font-size="3.5" dy="-2">+</tspan></text>
<circle cx="436.6" cy="418.6" r="3.4" fill="url(#gH)"/><text class="s" x="436.6" y="420.3" font-size="5.2" text-anchor="middle" fill="#3a0030" style="stroke:none">h<tspan font-size="3.5" dy="-2">+</tspan></text>
<circle cx="438.0" cy="387.6" r="3.9" fill="url(#gP)"/><text class="s" x="438.0" y="389.8" font-size="6.5" text-anchor="middle" fill="#0a1a40" style="stroke:none">+</text>
<circle cx="438.0" cy="398.5" r="3.9" fill="url(#gP)"/><text class="s" x="438.0" y="400.7" font-size="6.5" text-anchor="middle" fill="#0a1a40" style="stroke:none">+</text>
<circle cx="438.0" cy="408.3" r="3.9" fill="url(#gP)"/><text class="s" x="438.0" y="410.5" font-size="6.5" text-anchor="middle" fill="#0a1a40" style="stroke:none">+</text>
<text class="s" x="314.4" y="371.7" font-size="7.2">CB</text>
<text class="s" x="316" y="421.2" font-size="7.2">VB</text>
<text class="s" x="372.4" y="375.5" font-size="7.2">CB</text>
<text class="s" x="372.4" y="422.1" font-size="7.2">VB</text>
<text class="s" x="319.3" y="398.4" font-size="8.8">TiO<tspan font-size="6" dy="2.2">2</tspan></text>
<text class="s" x="369" y="398.6" font-size="8.8">RGO/TiO<tspan font-size="6" dy="2.2">2</tspan></text>
<text class="s" transform="translate(359.7,392.6) rotate(-90)" font-size="9.3" text-anchor="middle">3.15 eV</text>
<text class="s" transform="translate(425.9,392.8) rotate(-90)" font-size="9.5" text-anchor="middle">2.99 eV</text>
<line x1="408.6" y1="348.9" x2="444" y2="348.9" stroke="#ff3030" stroke-width="1.3"/><polygon points="443.5,346.9 447.5,348.9 443.5,350.9" fill="#ff3030"/>
<path d="M419.1,352.3 C424,352.5 425,355 426.5,358 C427.8,360.3 429.5,361.2 431,361.5" fill="none" stroke="#ff3030" stroke-width="1.1"/><polygon points="430.5,359.6 433.6,361.9 430.3,363.4" fill="#ff3030"/>
<text class="s" x="460.3" y="354" font-size="9.4">H<tspan font-size="6.8" dy="2.4">2</tspan><tspan dy="-2.4">O</tspan><tspan font-size="6.8" dy="2.4">2</tspan><tspan dy="-2.4"> /·O</tspan><tspan font-size="6.8" dy="2.4">2</tspan><tspan font-size="6.8" dy="-5.8">-</tspan></text>
<text class="s" x="461.9" y="384.3" font-size="8.8">O<tspan font-size="6" dy="2.2">2</tspan></text>
<text class="s" x="461.6" y="420.4" font-size="9.8">H<tspan font-size="6.5" dy="2.2">2</tspan><tspan dy="-2.2">O/OH</tspan><tspan font-size="6.2" dy="-3.5">-</tspan></text>
<text class="s" x="460.8" y="448" font-size="9.3">·OH</text>
<text class="s" x="215" y="366.2" font-size="10">Degradation</text>
<text class="s" x="215" y="378.2" font-size="10">products</text>
<text class="s" x="290.6" y="379.1" font-size="8.4">·O<tspan font-size="5.6" dy="2.2">2</tspan><tspan font-size="5.6" dy="-5.5">-</tspan></text>
<text class="s" x="224.4" y="434.9" font-size="10">Antibiotics</text>
<text class="s" x="249.5" y="471.6" font-size="10.3">Living <tspan font-style="italic">E. coli</tspan></text>
<text class="s" x="278" y="510.8" font-size="10.3">Dead <tspan font-style="italic">E. coli</tspan></text>
<polygon points="295.2,391.1 302.4,384.2 307.4,384.2 301.4,391.1 307.4,398.8 302.4,398.8" fill="#4173c8"/>
<polygon points="271.73,372.28 272.23,372.32 272.87,372.34 273.57,372.34 274.31,372.34 275.10,372.35 275.92,372.37 276.73,372.41 277.53,372.48 278.29,372.58 278.98,372.72 279.58,372.89 280.09,373.10 280.61,373.39 281.17,373.75 281.74,374.18 282.30,374.66 282.86,375.18 283.40,375.74 283.93,376.33 284.43,376.95 284.90,377.58 285.33,378.23 285.72,378.88 286.07,379.53 286.37,380.19 286.64,380.89 286.88,381.63 287.08,382.40 287.23,383.21 287.31,384.03 287.35,384.87 287.38,385.70 287.38,386.53 287.35,387.35 287.31,388.15 287.26,388.92 287.18,389.67 287.07,390.43 286.93,391.18 286.77,391.94 286.59,392.69 286.38,393.42 286.16,394.14 285.92,394.84 285.66,395.50 285.39,396.13 285.12,396.73 284.84,397.26 284.56,397.73 284.26,398.17 283.93,398.59 283.58,399.00 283.21,399.39 282.82,399.77 282.42,400.13 282.01,400.48 281.60,400.82 281.18,401.16 280.76,401.49 280.37,401.80 280.02,402.07 279.66,402.31 279.28,402.54 278.89,402.77 278.49,402.98 278.09,403.18 277.71,403.36 277.33,403.54 276.98,403.70 276.65,403.85 276.34,404.00 276.09,404.13 277.91,407.47 278.09,407.36 278.32,407.24 278.62,407.09 278.98,406.91 279.38,406.70 279.81,406.47 280.26,406.22 280.73,405.95 281.22,405.65 281.70,405.32 282.18,404.96 282.63,404.60 283.04,404.25 283.45,403.89 283.88,403.52 284.33,403.12 284.79,402.69 285.25,402.23 285.71,401.75 286.17,401.22 286.61,400.66 287.02,400.06 287.41,399.42 287.76,398.74 288.06,398.05 288.34,397.33 288.61,396.58 288.85,395.80 289.08,395.00 289.28,394.18 289.46,393.34 289.61,392.49 289.74,391.64 289.84,390.78 289.91,389.92 289.94,389.08 289.95,388.23 289.94,387.37 289.91,386.49 289.86,385.59 289.78,384.69 289.67,383.78 289.53,382.87 289.39,381.97 289.25,381.07 289.06,380.18 288.82,379.31 288.53,378.47 288.20,377.65 287.81,376.84 287.38,376.03 286.91,375.24 286.40,374.46 285.86,373.70 285.28,372.97 284.67,372.27 284.03,371.61 283.36,370.99 282.66,370.43 281.91,369.90 281.05,369.43 280.12,369.05 279.17,368.76 278.20,368.52 277.24,368.34 276.30,368.20 275.39,368.08 274.55,367.99 273.79,367.92 273.15,367.85 272.65,367.79 272.27,367.72" fill="#3464b6"/><polygon points="274.74,401.45 273.10,407.83 279.26,410.15" fill="#3464b6"/>
<polygon points="292.81,445.75 293.40,445.60 294.13,445.39 294.92,445.14 295.77,444.87 296.68,444.59 297.64,444.30 298.62,444.04 299.61,443.81 300.59,443.61 301.54,443.48 302.44,443.41 303.29,443.41 304.18,443.49 305.15,443.62 306.15,443.80 307.18,444.02 308.22,444.28 309.27,444.58 310.32,444.93 311.36,445.31 312.39,445.72 313.39,446.17 314.35,446.64 315.27,447.14 316.16,447.68 317.02,448.32 317.88,449.00 318.72,449.73 319.55,450.50 320.35,451.29 321.12,452.11 321.86,452.93 322.57,453.77 323.24,454.60 323.86,455.42 324.42,456.22 324.93,457.02 325.40,457.86 325.84,458.73 326.25,459.63 326.62,460.53 326.96,461.44 327.26,462.34 327.51,463.22 327.74,464.06 327.93,464.87 328.10,465.61 328.24,466.28 328.33,466.85 328.37,467.32 328.38,467.74 328.35,468.12 328.31,468.46 328.24,468.79 328.15,469.13 328.04,469.47 327.92,469.85 327.79,470.25 327.65,470.69 327.53,471.15 327.42,471.58 327.31,472.00 327.19,472.41 327.06,472.82 326.92,473.23 326.77,473.64 326.63,474.03 326.47,474.42 326.32,474.79 326.16,475.14 326.00,475.48 325.85,475.78 325.70,476.05 325.53,476.32 325.35,476.59 325.15,476.86 324.94,477.12 324.73,477.38 324.53,477.63 324.32,477.87 324.13,478.09 323.95,478.30 323.78,478.50 323.65,478.67 326.35,480.73 326.45,480.60 326.57,480.44 326.72,480.24 326.91,480.01 327.13,479.74 327.35,479.44 327.59,479.12 327.83,478.78 328.08,478.42 328.32,478.03 328.54,477.63 328.75,477.22 328.93,476.82 329.10,476.41 329.27,475.99 329.43,475.55 329.59,475.11 329.74,474.65 329.88,474.19 330.02,473.72 330.15,473.24 330.27,472.77 330.37,472.30 330.47,471.85 330.55,471.46 330.65,471.09 330.76,470.71 330.87,470.30 330.98,469.87 331.09,469.39 331.17,468.88 331.22,468.33 331.24,467.73 331.20,467.10 331.11,466.42 330.96,465.72 330.78,464.98 330.57,464.19 330.33,463.34 330.05,462.45 329.74,461.52 329.41,460.56 329.04,459.58 328.63,458.60 328.19,457.61 327.70,456.64 327.16,455.69 326.58,454.78 325.96,453.89 325.29,453.01 324.58,452.11 323.82,451.22 323.03,450.34 322.20,449.47 321.34,448.62 320.46,447.80 319.55,447.01 318.61,446.26 317.67,445.56 316.73,444.86 315.77,444.21 314.76,443.59 313.72,442.99 312.65,442.43 311.55,441.90 310.44,441.40 309.32,440.95 308.19,440.54 307.06,440.18 305.94,439.86 304.83,439.60 303.71,439.39 302.54,439.26 301.32,439.22 300.10,439.27 298.90,439.38 297.73,439.53 296.60,439.72 295.53,439.92 294.54,440.12 293.65,440.31 292.88,440.47 292.27,440.58 291.79,440.65" fill="#3464b6"/><polygon points="321.15,476.67 321.66,483.95 328.85,482.73" fill="#3464b6"/>
<polygon points="455.92,378.17 455.55,377.95 455.07,377.70 454.54,377.44 453.97,377.16 453.37,376.86 452.75,376.53 452.13,376.18 451.53,375.82 450.96,375.43 450.44,375.03 449.98,374.62 449.60,374.19 449.24,373.70 448.87,373.12 448.51,372.49 448.16,371.81 447.83,371.10 447.52,370.36 447.23,369.60 446.97,368.84 446.74,368.08 446.54,367.32 446.39,366.59 446.31,365.89 446.28,365.21 446.27,364.51 446.30,363.81 446.36,363.11 446.45,362.41 446.57,361.71 446.71,361.03 446.88,360.37 447.06,359.73 447.27,359.11 447.49,358.53 447.72,358.00 447.97,357.52 448.29,357.05 448.66,356.56 449.07,356.08 449.52,355.60 449.98,355.15 450.44,354.71 450.89,354.30 451.32,353.91 451.71,353.56 452.06,353.23 452.33,352.95 450.27,351.05 450.07,351.28 449.79,351.57 449.43,351.92 449.02,352.33 448.57,352.79 448.09,353.29 447.59,353.83 447.11,354.40 446.63,355.01 446.20,355.65 445.80,356.32 445.48,357.00 445.22,357.68 445.00,358.36 444.80,359.08 444.62,359.82 444.47,360.58 444.34,361.35 444.25,362.14 444.19,362.93 444.16,363.73 444.16,364.53 444.20,365.32 444.29,366.11 444.41,366.90 444.53,367.72 444.67,368.56 444.85,369.41 445.07,370.27 445.31,371.13 445.58,371.97 445.89,372.80 446.22,373.60 446.58,374.37 446.97,375.11 447.40,375.81 447.91,376.49 448.50,377.12 449.14,377.71 449.80,378.24 450.48,378.74 451.15,379.19 451.80,379.61 452.41,379.98 452.97,380.32 453.44,380.60 453.81,380.83 454.08,381.03" fill="#3a6bc0"/><polygon points="453.73,354.38 454.10,349.14 448.87,349.62" fill="#3a6bc0"/>
<polygon points="455.94,412.63 455.63,412.84 455.22,413.07 454.69,413.36 454.08,413.69 453.39,414.07 452.67,414.49 451.92,414.95 451.17,415.46 450.43,416.01 449.73,416.61 449.09,417.28 448.53,418.00 448.06,418.75 447.64,419.54 447.26,420.38 446.91,421.26 446.59,422.17 446.31,423.09 446.06,424.02 445.85,424.95 445.68,425.87 445.51,426.75 445.36,427.60 445.25,428.42 445.20,429.23 445.20,430.03 445.25,430.83 445.34,431.61 445.48,432.37 445.64,433.12 445.84,433.85 446.06,434.56 446.30,435.23 446.55,435.88 446.82,436.49 447.11,437.10 447.45,437.71 447.86,438.30 448.31,438.85 448.79,439.36 449.28,439.83 449.76,440.27 450.23,440.67 450.67,441.04 451.07,441.36 451.41,441.64 451.67,441.86 451.87,442.04 453.73,439.96 453.47,439.73 453.13,439.47 452.75,439.19 452.34,438.89 451.92,438.57 451.48,438.23 451.04,437.87 450.62,437.50 450.22,437.11 449.86,436.71 449.56,436.32 449.29,435.90 449.04,435.43 448.78,434.90 448.53,434.34 448.29,433.76 448.07,433.15 447.87,432.53 447.70,431.89 447.55,431.24 447.44,430.58 447.37,429.91 447.33,429.25 447.35,428.58 447.40,427.87 447.50,427.10 447.66,426.29 447.89,425.46 448.15,424.63 448.45,423.80 448.78,422.98 449.13,422.19 449.50,421.44 449.89,420.75 450.28,420.13 450.67,419.60 451.09,419.16 451.58,418.73 452.15,418.32 452.79,417.92 453.46,417.55 454.14,417.20 454.83,416.87 455.50,416.57 456.13,416.30 456.72,416.04 457.25,415.79 457.66,415.57" fill="#3a6bc0"/><polygon points="450.61,443.60 455.86,443.58 454.99,438.40" fill="#3a6bc0"/>
<g stroke="#c8c8c8" stroke-width="0.6"><line x1="244.2" y1="399.7" x2="252.0" y2="403.6"/><line x1="244.2" y1="399.7" x2="238.7" y2="409.5"/><line x1="252.0" y1="403.6" x2="251.6" y2="411.1"/><line x1="238.7" y1="409.5" x2="251.6" y2="411.1"/><line x1="244.2" y1="399.7" x2="241.4" y2="393.9"/><line x1="244.2" y1="399.7" x2="249.2" y2="397.4"/><line x1="244.2" y1="399.7" x2="235.9" y2="403.6"/><line x1="252.0" y1="403.6" x2="257.4" y2="401.3"/><line x1="252.0" y1="403.6" x2="248.8" y2="404.8"/><line x1="238.7" y1="409.5" x2="235.9" y2="410.7"/><line x1="238.7" y1="409.5" x2="230.5" y2="413.4"/><line x1="238.7" y1="409.5" x2="243.8" y2="414.6"/><line x1="251.6" y1="411.1" x2="257.1" y2="408.3"/><line x1="251.6" y1="411.1" x2="256.7" y2="415.4"/><line x1="251.6" y1="411.1" x2="252.0" y2="418.5"/><line x1="252.0" y1="403.6" x2="261.7" y2="398.6"/><line x1="238.7" y1="409.5" x2="243.8" y2="407.2"/></g>
<radialGradient id="gPink" cx="45%" cy="40%" r="60%"><stop offset="0" stop-color="#f6b0f6"/><stop offset="1" stop-color="#d452e4"/></radialGradient>
<g fill="url(#gPink)"><ellipse cx="235.9" cy="395.8" rx="2.6" ry="2.25"/><ellipse cx="241.4" cy="393.9" rx="2.6" ry="2.25"/><ellipse cx="249.2" cy="397.4" rx="2.6" ry="2.25"/><ellipse cx="235.9" cy="403.6" rx="2.6" ry="2.25"/><ellipse cx="257.4" cy="401.3" rx="2.6" ry="2.25"/><ellipse cx="261.7" cy="398.6" rx="2.6" ry="2.25"/><ellipse cx="248.8" cy="404.8" rx="2.6" ry="2.25"/><ellipse cx="243.8" cy="407.2" rx="2.6" ry="2.25"/><ellipse cx="235.9" cy="410.7" rx="2.6" ry="2.25"/><ellipse cx="257.1" cy="408.3" rx="2.6" ry="2.25"/><ellipse cx="230.5" cy="413.4" rx="2.6" ry="2.25"/><ellipse cx="243.8" cy="414.6" rx="2.6" ry="2.25"/><ellipse cx="256.7" cy="415.4" rx="2.6" ry="2.25"/><ellipse cx="252.0" cy="418.5" rx="2.6" ry="2.25"/></g>
<g fill="#f6b538"><circle cx="244.2" cy="399.7" r="1.4"/><circle cx="252.0" cy="403.6" r="1.4"/><circle cx="238.7" cy="409.5" r="1.4"/><circle cx="251.6" cy="411.1" r="1.4"/></g>
<g stroke="#7a7a7a" stroke-width="0.5"><line x1="270.8" y1="446.5" x2="271.7" y2="442.4"/><line x1="271.5" y1="446.5" x2="271.4" y2="441.4"/><line x1="273.3" y1="446.5" x2="272.8" y2="441.5"/><line x1="274.5" y1="446.5" x2="273.9" y2="442.3"/><line x1="276.0" y1="446.5" x2="276.7" y2="442.1"/><line x1="276.8" y1="446.5" x2="277.6" y2="441.8"/><line x1="278.2" y1="446.5" x2="278.1" y2="442.4"/><line x1="279.8" y1="446.5" x2="279.0" y2="441.3"/><line x1="281.1" y1="446.5" x2="281.4" y2="442.2"/><line x1="282.7" y1="446.5" x2="282.8" y2="440.5"/><line x1="284.1" y1="446.5" x2="283.1" y2="442.0"/><line x1="284.8" y1="446.5" x2="285.0" y2="441.2"/><line x1="286.6" y1="447.1" x2="288.6" y2="443.5"/><line x1="287.2" y1="447.6" x2="290.0" y2="442.8"/><line x1="288.0" y1="448.5" x2="290.8" y2="446.1"/><line x1="288.5" y1="450.0" x2="293.2" y2="450.3"/><line x1="288.3" y1="451.7" x2="293.7" y2="452.6"/><line x1="287.9" y1="452.6" x2="291.2" y2="454.4"/><line x1="286.9" y1="453.7" x2="289.6" y2="456.7"/><line x1="285.7" y1="454.3" x2="288.6" y2="459.4"/><line x1="284.6" y1="454.5" x2="284.9" y2="459.3"/><line x1="283.2" y1="454.5" x2="284.2" y2="460.1"/><line x1="281.5" y1="454.5" x2="281.3" y2="459.5"/><line x1="280.1" y1="454.5" x2="281.1" y2="459.4"/><line x1="279.2" y1="454.5" x2="278.8" y2="459.9"/><line x1="278.0" y1="454.5" x2="276.9" y2="459.4"/><line x1="276.4" y1="454.5" x2="276.1" y2="458.2"/><line x1="275.4" y1="454.5" x2="276.5" y2="458.9"/><line x1="273.9" y1="454.5" x2="274.7" y2="458.6"/><line x1="272.6" y1="454.5" x2="273.3" y2="459.8"/><line x1="271.3" y1="454.5" x2="272.6" y2="459.9"/><line x1="269.8" y1="454.4" x2="269.9" y2="458.5"/><line x1="268.8" y1="454.1" x2="266.9" y2="458.9"/><line x1="267.5" y1="453.2" x2="264.0" y2="458.0"/><line x1="266.9" y1="452.3" x2="262.3" y2="456.0"/><line x1="266.5" y1="450.8" x2="261.4" y2="451.8"/><line x1="266.7" y1="449.2" x2="263.0" y2="447.9"/><line x1="267.3" y1="448.1" x2="263.8" y2="444.1"/><line x1="268.2" y1="447.2" x2="265.7" y2="442.5"/><line x1="269.0" y1="446.8" x2="266.3" y2="442.9"/><line x1="266.5" y1="450.5" x2="261.0" y2="450.5" stroke-width="0.8"/></g><rect x="266.5" y="446.5" width="22.0" height="8.0" rx="4.0" fill="#641526" stroke="#360710" stroke-width="0.7"/>
<g stroke="#6a6a6a" stroke-width="0.5"><line x1="300.1" y1="486.3" x2="300.1" y2="482.1"/><line x1="301.3" y1="486.2" x2="300.6" y2="480.9"/><line x1="302.2" y1="486.2" x2="302.7" y2="480.8"/><line x1="303.0" y1="486.2" x2="303.9" y2="482.5"/><line x1="304.7" y1="486.2" x2="303.5" y2="480.7"/><line x1="305.5" y1="486.2" x2="305.8" y2="481.0"/><line x1="306.9" y1="486.2" x2="306.6" y2="480.4"/><line x1="307.4" y1="486.2" x2="306.8" y2="481.2"/><line x1="308.8" y1="486.2" x2="309.7" y2="480.9"/><line x1="309.7" y1="486.2" x2="309.3" y2="481.6"/><line x1="310.7" y1="486.2" x2="311.8" y2="480.6"/><line x1="312.0" y1="486.2" x2="312.0" y2="482.5"/><line x1="313.2" y1="486.3" x2="313.4" y2="482.1"/><line x1="314.3" y1="486.4" x2="315.6" y2="482.8"/><line x1="315.1" y1="486.8" x2="316.6" y2="483.3"/><line x1="315.8" y1="487.4" x2="320.0" y2="483.6"/><line x1="316.4" y1="488.2" x2="321.0" y2="485.4"/><line x1="316.8" y1="489.2" x2="321.6" y2="489.2"/><line x1="316.8" y1="490.6" x2="321.7" y2="490.3"/><line x1="316.6" y1="491.4" x2="321.3" y2="492.3"/><line x1="315.8" y1="492.6" x2="320.2" y2="495.4"/><line x1="315.1" y1="493.2" x2="317.3" y2="496.8"/><line x1="314.1" y1="493.6" x2="316.1" y2="497.3"/><line x1="313.2" y1="493.7" x2="313.0" y2="498.9"/><line x1="311.8" y1="493.8" x2="312.4" y2="499.7"/><line x1="311.2" y1="493.8" x2="311.4" y2="499.4"/><line x1="310.0" y1="493.8" x2="309.4" y2="498.0"/><line x1="309.1" y1="493.8" x2="308.9" y2="499.4"/><line x1="307.6" y1="493.8" x2="307.5" y2="499.6"/><line x1="306.7" y1="493.8" x2="305.4" y2="499.2"/><line x1="305.7" y1="493.8" x2="306.9" y2="499.4"/><line x1="304.2" y1="493.8" x2="304.3" y2="498.8"/><line x1="303.5" y1="493.8" x2="302.8" y2="498.4"/><line x1="302.4" y1="493.8" x2="302.5" y2="499.0"/><line x1="301.2" y1="493.8" x2="302.0" y2="498.0"/><line x1="300.1" y1="493.8" x2="301.2" y2="499.1"/><line x1="299.2" y1="493.6" x2="299.1" y2="498.2"/><line x1="297.9" y1="493.0" x2="295.4" y2="496.1"/><line x1="297.3" y1="492.5" x2="294.4" y2="494.9"/><line x1="296.7" y1="491.6" x2="292.8" y2="493.4"/><line x1="296.4" y1="490.6" x2="291.3" y2="490.3"/><line x1="296.4" y1="489.5" x2="291.8" y2="488.5"/><line x1="296.7" y1="488.5" x2="292.1" y2="485.4"/><line x1="297.1" y1="487.7" x2="294.6" y2="484.9"/><line x1="298.1" y1="486.8" x2="296.5" y2="481.8"/><line x1="299.0" y1="486.4" x2="298.2" y2="482.0"/></g><rect x="296.4" y="486.2" width="20.5" height="7.5" rx="3.8" fill="#2a2a2a" stroke="#111" stroke-width="0.7"/>
</svg></body></html>
